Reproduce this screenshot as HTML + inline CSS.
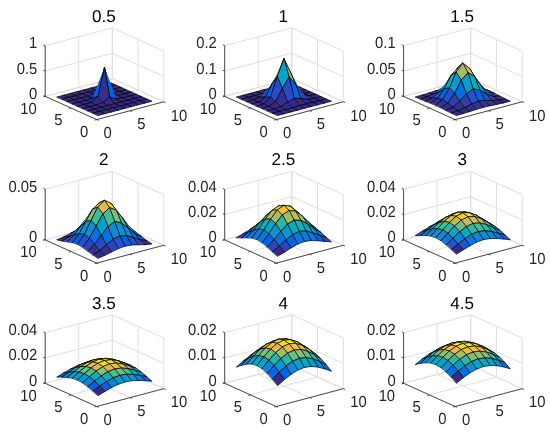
<!DOCTYPE html>
<html><head><meta charset="utf-8"><title>Gaussian kernels</title>
<style>
html,body{margin:0;padding:0;background:#fff;}
svg{display:block;font-family:"Liberation Sans",sans-serif;}
</style></head><body>
<svg width="550" height="433" viewBox="0 0 550 433">
<rect width="550" height="433" fill="#fff"/>
<g fill="none" shape-rendering="auto"><line x1="96.69" y1="119.6" x2="45.2" y2="96.39" stroke="#dfdfdf" stroke-width="1"/><line x1="96.69" y1="119.6" x2="163.8" y2="101.79" stroke="#dfdfdf" stroke-width="1"/><line x1="45.2" y1="96.39" x2="45.2" y2="45.71" stroke="#dfdfdf" stroke-width="1"/><line x1="163.8" y1="101.79" x2="163.8" y2="51.11" stroke="#dfdfdf" stroke-width="1"/><line x1="130.25" y1="110.69" x2="78.75" y2="87.48" stroke="#dfdfdf" stroke-width="1"/><line x1="70.95" y1="107.99" x2="138.05" y2="90.18" stroke="#dfdfdf" stroke-width="1"/><line x1="78.75" y1="87.48" x2="78.75" y2="36.81" stroke="#dfdfdf" stroke-width="1"/><line x1="138.05" y1="90.18" x2="138.05" y2="39.51" stroke="#dfdfdf" stroke-width="1"/><line x1="163.8" y1="101.79" x2="112.31" y2="78.58" stroke="#dfdfdf" stroke-width="1"/><line x1="45.2" y1="96.39" x2="112.31" y2="78.58" stroke="#dfdfdf" stroke-width="1"/><line x1="112.31" y1="78.58" x2="112.31" y2="27.9" stroke="#dfdfdf" stroke-width="1"/><line x1="112.31" y1="78.58" x2="112.31" y2="27.9" stroke="#dfdfdf" stroke-width="1"/><line x1="45.2" y1="96.39" x2="112.31" y2="78.58" stroke="#dfdfdf" stroke-width="1"/><line x1="112.31" y1="78.58" x2="163.8" y2="101.79" stroke="#dfdfdf" stroke-width="1"/><line x1="45.2" y1="71.05" x2="112.31" y2="53.24" stroke="#dfdfdf" stroke-width="1"/><line x1="112.31" y1="53.24" x2="163.8" y2="76.45" stroke="#dfdfdf" stroke-width="1"/><line x1="45.2" y1="45.71" x2="112.31" y2="27.9" stroke="#dfdfdf" stroke-width="1"/><line x1="112.31" y1="27.9" x2="163.8" y2="51.11" stroke="#dfdfdf" stroke-width="1"/><line x1="45.2" y1="96.39" x2="45.2" y2="45.71" stroke="#262626" stroke-width="0.8"/><line x1="96.69" y1="119.6" x2="163.8" y2="101.79" stroke="#262626" stroke-width="0.8"/><line x1="96.69" y1="119.6" x2="45.2" y2="96.39" stroke="#262626" stroke-width="0.8"/><line x1="45.2" y1="96.39" x2="43.38" y2="95.57" stroke="#262626" stroke-width="0.8"/><line x1="45.2" y1="71.05" x2="43.38" y2="70.23" stroke="#262626" stroke-width="0.8"/><line x1="45.2" y1="45.71" x2="43.38" y2="44.89" stroke="#262626" stroke-width="0.8"/><line x1="96.69" y1="119.6" x2="98.52" y2="120.42" stroke="#262626" stroke-width="0.8"/><line x1="96.69" y1="119.6" x2="94.76" y2="120.11" stroke="#262626" stroke-width="0.8"/><line x1="130.25" y1="110.69" x2="132.07" y2="111.52" stroke="#262626" stroke-width="0.8"/><line x1="70.95" y1="107.99" x2="69.01" y2="108.51" stroke="#262626" stroke-width="0.8"/><line x1="163.8" y1="101.79" x2="165.62" y2="102.61" stroke="#262626" stroke-width="0.8"/><line x1="45.2" y1="96.39" x2="43.27" y2="96.9" stroke="#262626" stroke-width="0.8"/></g>
<g stroke="#000" stroke-width="0.7" stroke-linejoin="round" stroke-linecap="round"><path d="M109.18,86.78L115.89,85L110.75,82.68L104.03,84.46Z" fill="#352a87"/><path d="M102.47,88.56L109.18,86.78L104.03,84.46L97.32,86.24Z" fill="#352a87"/><path d="M114.33,89.1L121.04,87.32L115.89,85L109.18,86.78Z" fill="#352a87"/><path d="M95.76,90.34L102.47,88.56L97.32,86.24L90.61,88.02Z" fill="#352a87"/><path d="M107.62,90.88L114.33,89.1L109.18,86.78L102.47,88.56Z" fill="#352a87"/><path d="M119.48,91.42L126.19,89.64L121.04,87.32L114.33,89.1Z" fill="#352a87"/><path d="M89.05,92.12L95.76,90.34L90.61,88.02L83.9,89.8Z" fill="#352a87"/><path d="M100.91,92.66L107.62,90.88L102.47,88.56L95.76,90.34Z" fill="#352a87"/><path d="M112.77,93.2L119.48,91.42L114.33,89.1L107.62,90.88Z" fill="#352a87"/><path d="M124.63,93.74L131.34,91.96L126.19,89.64L119.48,91.42Z" fill="#352a87"/><path d="M82.34,93.91L89.05,92.12L83.9,89.8L77.19,91.58Z" fill="#352a87"/><path d="M94.2,94.44L100.91,92.66L95.76,90.34L89.05,92.12Z" fill="#352a87"/><path d="M106.06,94.41L112.77,93.2L107.62,90.88L100.91,92.66Z" fill="#363093"/><path d="M117.92,95.52L124.63,93.74L119.48,91.42L112.77,93.2Z" fill="#352a87"/><path d="M75.63,95.69L82.34,93.91L77.19,91.58L70.48,93.37Z" fill="#352a87"/><path d="M129.78,96.07L136.49,94.29L131.34,91.96L124.63,93.74Z" fill="#352a87"/><path d="M87.49,96.23L94.2,94.44L89.05,92.12L82.34,93.91Z" fill="#352a87"/><path d="M106.06,94.41L94.2,94.44L100.91,92.66Z" fill="#0363e1" stroke="none"/><path d="M106.06,94.41L100.91,92.66L94.2,94.44" fill="none"/><path d="M106.06,94.41L94.2,94.44L99.35,92.52Z" fill="#0363e1" stroke="none"/><path d="M106.06,94.41L99.35,92.52L94.2,94.44" fill="none"/><path d="M117.92,95.52L106.06,94.41L112.77,93.2Z" fill="#0363e1" stroke="none"/><path d="M117.92,95.52L112.77,93.2L106.06,94.41" fill="none"/><path d="M117.92,95.52L106.06,94.41L111.21,93.06Z" fill="#0363e1" stroke="none"/><path d="M117.92,95.52L111.21,93.06L106.06,94.41" fill="none"/><path d="M68.92,97.47L75.63,95.69L70.48,93.37L63.77,95.15Z" fill="#352a87"/><path d="M123.07,97.85L129.78,96.07L124.63,93.74L117.92,95.52Z" fill="#352a87"/><path d="M80.78,98.01L87.49,96.23L82.34,93.91L75.63,95.69Z" fill="#352a87"/><path d="M134.93,98.39L141.64,96.61L136.49,94.29L129.78,96.07Z" fill="#352a87"/><path d="M99.35,92.52L87.49,96.23L94.2,94.44Z" fill="#363093" stroke="none"/><path d="M99.35,92.52L94.2,94.44L87.49,96.23" fill="none"/><path d="M99.35,92.52L87.49,96.23L92.64,97.97Z" fill="#363093" stroke="none"/><path d="M99.35,92.52L92.64,97.97L87.49,96.23" fill="none"/><path d="M104.5,67.74L111.21,93.06L106.06,94.41L99.35,92.52Z" fill="#f9fb0e"/><path d="M62.21,99.25L68.92,97.47L63.77,95.15L57.06,96.93Z" fill="#352a87"/><path d="M116.36,99.05L123.07,97.85L117.92,95.52L111.21,93.06Z" fill="#363093"/><path d="M74.07,99.79L80.78,98.01L75.63,95.69L68.92,97.47Z" fill="#352a87"/><path d="M128.22,100.17L134.93,98.39L129.78,96.07L123.07,97.85Z" fill="#352a87"/><path d="M85.93,100.33L92.64,97.97L87.49,96.23L80.78,98.01Z" fill="#352a87"/><path d="M140.08,100.71L146.79,98.93L141.64,96.61L134.93,98.39Z" fill="#352a87"/><path d="M104.5,67.74L92.64,97.97L99.35,92.52Z" fill="#0363e1" stroke="none"/><path d="M104.5,67.74L99.35,92.52L92.64,97.97" fill="none"/><path d="M104.5,67.74L92.64,97.97L97.79,96.63Z" fill="#0363e1" stroke="none"/><path d="M104.5,67.74L97.79,96.63L92.64,97.97" fill="none"/><path d="M116.36,99.05L104.5,67.74L111.21,93.06Z" fill="#0363e1" stroke="none"/><path d="M116.36,99.05L111.21,93.06L104.5,67.74" fill="none"/><path d="M116.36,99.05L104.5,67.74L109.65,97.17Z" fill="#0363e1" stroke="none"/><path d="M116.36,99.05L109.65,97.17L104.5,67.74" fill="none"/><path d="M67.36,101.57L74.07,99.79L68.92,97.47L62.21,99.25Z" fill="#352a87"/><path d="M121.51,101.95L128.22,100.17L123.07,97.85L116.36,99.05Z" fill="#352a87"/><path d="M79.22,102.11L85.93,100.33L80.78,98.01L74.07,99.79Z" fill="#352a87"/><path d="M133.37,102.49L140.08,100.71L134.93,98.39L128.22,100.17Z" fill="#352a87"/><path d="M91.08,102.64L97.79,96.63L92.64,97.97L85.93,100.33Z" fill="#352a87"/><path d="M145.23,103.03L151.94,101.25L146.79,98.93L140.08,100.71Z" fill="#352a87"/><path d="M102.94,102.62L109.65,97.17L104.5,67.74L97.79,96.63Z" fill="#363093"/><path d="M114.8,103.72L121.51,101.95L116.36,99.05L109.65,97.17Z" fill="#352a87"/><path d="M72.51,103.89L79.22,102.11L74.07,99.79L67.36,101.57Z" fill="#352a87"/><path d="M126.66,104.27L133.37,102.49L128.22,100.17L121.51,101.95Z" fill="#352a87"/><path d="M84.37,104.43L91.08,102.64L85.93,100.33L79.22,102.11Z" fill="#352a87"/><path d="M138.52,104.81L145.23,103.03L140.08,100.71L133.37,102.49Z" fill="#352a87"/><path d="M96.23,104.97L102.94,102.62L97.79,96.63L91.08,102.64Z" fill="#352a87"/><path d="M108.09,105.51L114.8,103.72L109.65,97.17L102.94,102.62Z" fill="#352a87"/><path d="M119.95,106.05L126.66,104.27L121.51,101.95L114.8,103.72Z" fill="#352a87"/><path d="M77.66,106.21L84.37,104.43L79.22,102.11L72.51,103.89Z" fill="#352a87"/><path d="M131.81,106.59L138.52,104.81L133.37,102.49L126.66,104.27Z" fill="#352a87"/><path d="M89.52,106.75L96.23,104.97L91.08,102.64L84.37,104.43Z" fill="#352a87"/><path d="M101.38,107.29L108.09,105.51L102.94,102.62L96.23,104.97Z" fill="#352a87"/><path d="M113.24,107.83L119.95,106.05L114.8,103.72L108.09,105.51Z" fill="#352a87"/><path d="M125.1,108.37L131.81,106.59L126.66,104.27L119.95,106.05Z" fill="#352a87"/><path d="M82.81,108.53L89.52,106.75L84.37,104.43L77.66,106.21Z" fill="#352a87"/><path d="M94.67,109.07L101.38,107.29L96.23,104.97L89.52,106.75Z" fill="#352a87"/><path d="M106.53,109.61L113.24,107.83L108.09,105.51L101.38,107.29Z" fill="#352a87"/><path d="M118.39,110.15L125.1,108.37L119.95,106.05L113.24,107.83Z" fill="#352a87"/><path d="M87.96,110.86L94.67,109.07L89.52,106.75L82.81,108.53Z" fill="#352a87"/><path d="M99.82,111.4L106.53,109.61L101.38,107.29L94.67,109.07Z" fill="#352a87"/><path d="M111.68,111.94L118.39,110.15L113.24,107.83L106.53,109.61Z" fill="#352a87"/><path d="M93.11,113.18L99.82,111.4L94.67,109.07L87.96,110.86Z" fill="#352a87"/><path d="M104.97,113.72L111.68,111.94L106.53,109.61L99.82,111.4Z" fill="#352a87"/><path d="M98.25,115.5L104.97,113.72L99.82,111.4L93.11,113.18Z" fill="#352a87"/></g>
<g fill="#262626" text-rendering="geometricPrecision"><text transform="translate(103.8 21.6) scale(1 1.0)" text-anchor="middle" font-size="17.1" fill="#000">0.5</text><text transform="translate(37.3 98.84) scale(1 1.08)" text-anchor="end" font-size="14.8">0</text><text transform="translate(37.3 73.5) scale(1 1.08)" text-anchor="end" font-size="14.8">0.5</text><text transform="translate(37.3 48.16) scale(1 1.08)" text-anchor="end" font-size="14.8">1</text><text transform="translate(103.59 138.4) scale(1 1.08)" text-anchor="start" font-size="14.8">0</text><text transform="translate(88.19 137) scale(1 1.08)" text-anchor="end" font-size="14.8">0</text><text transform="translate(137.15 129.49) scale(1 1.08)" text-anchor="start" font-size="14.8">5</text><text transform="translate(62.45 125.39) scale(1 1.08)" text-anchor="end" font-size="14.8">5</text><text transform="translate(170.7 120.59) scale(1 1.08)" text-anchor="start" font-size="14.8">10</text><text transform="translate(36.7 113.79) scale(1 1.08)" text-anchor="end" font-size="14.8">10</text></g>
<g fill="none" shape-rendering="auto"><line x1="276.19" y1="119.6" x2="224.7" y2="96.39" stroke="#dfdfdf" stroke-width="1"/><line x1="276.19" y1="119.6" x2="343.3" y2="101.79" stroke="#dfdfdf" stroke-width="1"/><line x1="224.7" y1="96.39" x2="224.7" y2="45.71" stroke="#dfdfdf" stroke-width="1"/><line x1="343.3" y1="101.79" x2="343.3" y2="51.11" stroke="#dfdfdf" stroke-width="1"/><line x1="309.75" y1="110.69" x2="258.25" y2="87.48" stroke="#dfdfdf" stroke-width="1"/><line x1="250.45" y1="107.99" x2="317.55" y2="90.18" stroke="#dfdfdf" stroke-width="1"/><line x1="258.25" y1="87.48" x2="258.25" y2="36.81" stroke="#dfdfdf" stroke-width="1"/><line x1="317.55" y1="90.18" x2="317.55" y2="39.51" stroke="#dfdfdf" stroke-width="1"/><line x1="343.3" y1="101.79" x2="291.81" y2="78.58" stroke="#dfdfdf" stroke-width="1"/><line x1="224.7" y1="96.39" x2="291.81" y2="78.58" stroke="#dfdfdf" stroke-width="1"/><line x1="291.81" y1="78.58" x2="291.81" y2="27.9" stroke="#dfdfdf" stroke-width="1"/><line x1="291.81" y1="78.58" x2="291.81" y2="27.9" stroke="#dfdfdf" stroke-width="1"/><line x1="224.7" y1="96.39" x2="291.81" y2="78.58" stroke="#dfdfdf" stroke-width="1"/><line x1="291.81" y1="78.58" x2="343.3" y2="101.79" stroke="#dfdfdf" stroke-width="1"/><line x1="224.7" y1="71.05" x2="291.81" y2="53.24" stroke="#dfdfdf" stroke-width="1"/><line x1="291.81" y1="53.24" x2="343.3" y2="76.45" stroke="#dfdfdf" stroke-width="1"/><line x1="224.7" y1="45.71" x2="291.81" y2="27.9" stroke="#dfdfdf" stroke-width="1"/><line x1="291.81" y1="27.9" x2="343.3" y2="51.11" stroke="#dfdfdf" stroke-width="1"/><line x1="224.7" y1="96.39" x2="224.7" y2="45.71" stroke="#262626" stroke-width="0.8"/><line x1="276.19" y1="119.6" x2="343.3" y2="101.79" stroke="#262626" stroke-width="0.8"/><line x1="276.19" y1="119.6" x2="224.7" y2="96.39" stroke="#262626" stroke-width="0.8"/><line x1="224.7" y1="96.39" x2="222.88" y2="95.57" stroke="#262626" stroke-width="0.8"/><line x1="224.7" y1="71.05" x2="222.88" y2="70.23" stroke="#262626" stroke-width="0.8"/><line x1="224.7" y1="45.71" x2="222.88" y2="44.89" stroke="#262626" stroke-width="0.8"/><line x1="276.19" y1="119.6" x2="278.02" y2="120.42" stroke="#262626" stroke-width="0.8"/><line x1="276.19" y1="119.6" x2="274.26" y2="120.11" stroke="#262626" stroke-width="0.8"/><line x1="309.75" y1="110.69" x2="311.57" y2="111.52" stroke="#262626" stroke-width="0.8"/><line x1="250.45" y1="107.99" x2="248.51" y2="108.51" stroke="#262626" stroke-width="0.8"/><line x1="343.3" y1="101.79" x2="345.12" y2="102.61" stroke="#262626" stroke-width="0.8"/><line x1="224.7" y1="96.39" x2="222.77" y2="96.9" stroke="#262626" stroke-width="0.8"/></g>
<g stroke="#000" stroke-width="0.7" stroke-linejoin="round" stroke-linecap="round"><path d="M288.68,86.78L295.39,85L290.25,82.68L283.53,84.46Z" fill="#352a87"/><path d="M281.97,88.5L288.68,86.78L283.53,84.46L276.82,86.24Z" fill="#352a87"/><path d="M293.83,89.04L300.54,87.32L295.39,85L288.68,86.78Z" fill="#352a87"/><path d="M275.26,90.07L281.97,88.5L276.82,86.24L270.11,88.01Z" fill="#352a87"/><path d="M287.12,90.15L293.83,89.04L288.68,86.78L281.97,88.5Z" fill="#363093"/><path d="M298.98,91.15L305.69,89.63L300.54,87.32L293.83,89.04Z" fill="#352a87"/><path d="M268.55,91.68L275.26,90.07L270.11,88.01L263.4,89.79Z" fill="#352a87"/><path d="M287.12,90.15L275.26,90.07L281.97,88.5Z" fill="#2c4ac7" stroke="none"/><path d="M287.12,90.15L281.97,88.5L275.26,90.07" fill="none"/><path d="M287.12,90.15L275.26,90.07L280.41,89.35Z" fill="#2c4ac7" stroke="none"/><path d="M287.12,90.15L280.41,89.35L275.26,90.07" fill="none"/><path d="M298.98,91.15L287.12,90.15L293.83,89.04Z" fill="#2c4ac7" stroke="none"/><path d="M298.98,91.15L293.83,89.04L287.12,90.15" fill="none"/><path d="M298.98,91.15L287.12,90.15L292.27,89.89Z" fill="#2c4ac7" stroke="none"/><path d="M298.98,91.15L292.27,89.89L287.12,90.15" fill="none"/><path d="M304.13,93.3L310.84,91.95L305.69,89.63L298.98,91.15Z" fill="#352a87"/><path d="M261.84,93.63L268.55,91.68L263.4,89.79L256.69,91.58Z" fill="#352a87"/><path d="M280.41,89.35L268.55,91.68L275.26,90.07Z" fill="#0363e1" stroke="none"/><path d="M280.41,89.35L275.26,90.07L268.55,91.68" fill="none"/><path d="M280.41,89.35L268.55,91.68L273.7,88.99Z" fill="#0363e1" stroke="none"/><path d="M280.41,89.35L273.7,88.99L268.55,91.68" fill="none"/><path d="M285.56,80.15L292.27,89.89L287.12,90.15L280.41,89.35Z" fill="#06a4ca"/><path d="M304.13,93.3L292.27,89.89L298.98,91.15Z" fill="#0363e1" stroke="none"/><path d="M304.13,93.3L298.98,91.15L292.27,89.89" fill="none"/><path d="M304.13,93.3L292.27,89.89L297.42,90.07Z" fill="#0363e1" stroke="none"/><path d="M304.13,93.3L297.42,90.07L292.27,89.89" fill="none"/><path d="M255.13,95.63L261.84,93.63L256.69,91.58L249.98,93.36Z" fill="#352a87"/><path d="M309.28,95.79L315.99,94.28L310.84,91.95L304.13,93.3Z" fill="#352a87"/><path d="M273.7,88.99L261.84,93.63L268.55,91.68Z" fill="#2c4ac7" stroke="none"/><path d="M273.7,88.99L268.55,91.68L261.84,93.63" fill="none"/><path d="M273.7,88.99L261.84,93.63L266.99,92.92Z" fill="#2c4ac7" stroke="none"/><path d="M273.7,88.99L266.99,92.92L261.84,93.63" fill="none"/><path d="M278.85,72.31L285.56,80.15L280.41,89.35L273.7,88.99Z" fill="#7cbf7b"/><path d="M290.71,72.85L297.42,90.07L292.27,89.89L285.56,80.15Z" fill="#7cbf7b"/><path d="M248.42,97.46L255.13,95.63L249.98,93.36L243.27,95.15Z" fill="#352a87"/><path d="M302.57,94.54L309.28,95.79L304.13,93.3L297.42,90.07Z" fill="#2c4ac7"/><path d="M260.28,97.27L266.99,92.92L261.84,93.63L255.13,95.63Z" fill="#363093"/><path d="M314.43,98.33L321.14,96.6L315.99,94.28L309.28,95.79Z" fill="#352a87"/><path d="M272.14,83.71L278.85,72.31L273.7,88.99L266.99,92.92Z" fill="#06a4ca"/><path d="M284,58.76L290.71,72.85L285.56,80.15L278.85,72.31Z" fill="#f9fb0e"/><path d="M241.71,99.25L248.42,97.46L243.27,95.15L236.56,96.93Z" fill="#352a87"/><path d="M302.57,94.54L290.71,72.85L297.42,90.07Z" fill="#06a4ca" stroke="none"/><path d="M302.57,94.54L297.42,90.07L290.71,72.85" fill="none"/><path d="M302.57,94.54L290.71,72.85L295.86,84.79Z" fill="#06a4ca" stroke="none"/><path d="M302.57,94.54L295.86,84.79L290.71,72.85" fill="none"/><path d="M253.57,99.73L260.28,97.27L255.13,95.63L248.42,97.46Z" fill="#352a87"/><path d="M307.72,99.43L314.43,98.33L309.28,95.79L302.57,94.54Z" fill="#363093"/><path d="M272.14,83.71L260.28,97.27L266.99,92.92Z" fill="#2c4ac7" stroke="none"/><path d="M272.14,83.71L266.99,92.92L260.28,97.27" fill="none"/><path d="M272.14,83.71L260.28,97.27L265.43,97.02Z" fill="#2c4ac7" stroke="none"/><path d="M272.14,83.71L265.43,97.02L260.28,97.27" fill="none"/><path d="M319.58,100.7L326.29,98.93L321.14,96.6L314.43,98.33Z" fill="#352a87"/><path d="M284,58.76L272.14,83.71L278.85,72.31Z" fill="#7cbf7b" stroke="none"/><path d="M284,58.76L278.85,72.31L272.14,83.71" fill="none"/><path d="M284,58.76L272.14,83.71L277.29,76.41Z" fill="#7cbf7b" stroke="none"/><path d="M284,58.76L277.29,76.41L272.14,83.71" fill="none"/><path d="M289.15,76.95L295.86,84.79L290.71,72.85L284,58.76Z" fill="#7cbf7b"/><path d="M246.86,101.57L253.57,99.73L248.42,97.46L241.71,99.25Z" fill="#352a87"/><path d="M307.72,99.43L295.86,84.79L302.57,94.54Z" fill="#2c4ac7" stroke="none"/><path d="M307.72,99.43L302.57,94.54L295.86,84.79" fill="none"/><path d="M307.72,99.43L295.86,84.79L301.01,98.64Z" fill="#2c4ac7" stroke="none"/><path d="M307.72,99.43L301.01,98.64L295.86,84.79" fill="none"/><path d="M258.72,101.84L265.43,97.02L260.28,97.27L253.57,99.73Z" fill="#352a87"/><path d="M312.87,102.43L319.58,100.7L314.43,98.33L307.72,99.43Z" fill="#352a87"/><path d="M270.58,97.19L277.29,76.41L272.14,83.71L265.43,97.02Z" fill="#0363e1"/><path d="M324.73,103.03L331.44,101.25L326.29,98.93L319.58,100.7Z" fill="#352a87"/><path d="M282.44,88.36L289.15,76.95L284,58.76L277.29,76.41Z" fill="#06a4ca"/><path d="M294.3,98.27L301.01,98.64L295.86,84.79L289.15,76.95Z" fill="#0363e1"/><path d="M252.01,103.88L258.72,101.84L253.57,99.73L246.86,101.57Z" fill="#352a87"/><path d="M306.16,104L312.87,102.43L307.72,99.43L301.01,98.64Z" fill="#352a87"/><path d="M263.87,103.98L270.58,97.19L265.43,97.02L258.72,101.84Z" fill="#352a87"/><path d="M318.02,104.81L324.73,103.03L319.58,100.7L312.87,102.43Z" fill="#352a87"/><path d="M275.73,101.66L282.44,88.36L277.29,76.41L270.58,97.19Z" fill="#2c4ac7"/><path d="M287.59,102.2L294.3,98.27L289.15,76.95L282.44,88.36Z" fill="#2c4ac7"/><path d="M299.45,105.6L306.16,104L301.01,98.64L294.3,98.27Z" fill="#352a87"/><path d="M257.16,106.2L263.87,103.98L258.72,101.84L252.01,103.88Z" fill="#352a87"/><path d="M311.31,106.58L318.02,104.81L312.87,102.43L306.16,104Z" fill="#352a87"/><path d="M269.02,106.48L275.73,101.66L270.58,97.19L263.87,103.98Z" fill="#352a87"/><path d="M280.88,106.55L287.59,102.2L282.44,88.36L275.73,101.66Z" fill="#363093"/><path d="M292.74,107.56L299.45,105.6L294.3,98.27L287.59,102.2Z" fill="#352a87"/><path d="M304.6,108.36L311.31,106.58L306.16,104L299.45,105.6Z" fill="#352a87"/><path d="M262.31,108.53L269.02,106.48L263.87,103.98L257.16,106.2Z" fill="#352a87"/><path d="M274.17,109.01L280.88,106.55L275.73,101.66L269.02,106.48Z" fill="#352a87"/><path d="M286.03,109.55L292.74,107.56L287.59,102.2L280.88,106.55Z" fill="#352a87"/><path d="M297.89,110.15L304.6,108.36L299.45,105.6L292.74,107.56Z" fill="#352a87"/><path d="M267.46,110.85L274.17,109.01L269.02,106.48L262.31,108.53Z" fill="#352a87"/><path d="M279.32,111.39L286.03,109.55L280.88,106.55L274.17,109.01Z" fill="#352a87"/><path d="M291.18,111.93L297.89,110.15L292.74,107.56L286.03,109.55Z" fill="#352a87"/><path d="M272.61,113.18L279.32,111.39L274.17,109.01L267.46,110.85Z" fill="#352a87"/><path d="M284.47,113.72L291.18,111.93L286.03,109.55L279.32,111.39Z" fill="#352a87"/><path d="M277.75,115.5L284.47,113.72L279.32,111.39L272.61,113.18Z" fill="#352a87"/></g>
<g fill="#262626" text-rendering="geometricPrecision"><text transform="translate(283.3 21.6) scale(1 1.0)" text-anchor="middle" font-size="17.1" fill="#000">1</text><text transform="translate(216.8 98.84) scale(1 1.08)" text-anchor="end" font-size="14.8">0</text><text transform="translate(216.8 73.5) scale(1 1.08)" text-anchor="end" font-size="14.8">0.1</text><text transform="translate(216.8 48.16) scale(1 1.08)" text-anchor="end" font-size="14.8">0.2</text><text transform="translate(283.09 138.4) scale(1 1.08)" text-anchor="start" font-size="14.8">0</text><text transform="translate(267.69 137) scale(1 1.08)" text-anchor="end" font-size="14.8">0</text><text transform="translate(316.65 129.49) scale(1 1.08)" text-anchor="start" font-size="14.8">5</text><text transform="translate(241.95 125.39) scale(1 1.08)" text-anchor="end" font-size="14.8">5</text><text transform="translate(350.2 120.59) scale(1 1.08)" text-anchor="start" font-size="14.8">10</text><text transform="translate(216.2 113.79) scale(1 1.08)" text-anchor="end" font-size="14.8">10</text></g>
<g fill="none" shape-rendering="auto"><line x1="455.09" y1="119.6" x2="403.6" y2="96.39" stroke="#dfdfdf" stroke-width="1"/><line x1="455.09" y1="119.6" x2="522.2" y2="101.79" stroke="#dfdfdf" stroke-width="1"/><line x1="403.6" y1="96.39" x2="403.6" y2="45.71" stroke="#dfdfdf" stroke-width="1"/><line x1="522.2" y1="101.79" x2="522.2" y2="51.11" stroke="#dfdfdf" stroke-width="1"/><line x1="488.65" y1="110.69" x2="437.15" y2="87.48" stroke="#dfdfdf" stroke-width="1"/><line x1="429.35" y1="107.99" x2="496.45" y2="90.18" stroke="#dfdfdf" stroke-width="1"/><line x1="437.15" y1="87.48" x2="437.15" y2="36.81" stroke="#dfdfdf" stroke-width="1"/><line x1="496.45" y1="90.18" x2="496.45" y2="39.51" stroke="#dfdfdf" stroke-width="1"/><line x1="522.2" y1="101.79" x2="470.71" y2="78.58" stroke="#dfdfdf" stroke-width="1"/><line x1="403.6" y1="96.39" x2="470.71" y2="78.58" stroke="#dfdfdf" stroke-width="1"/><line x1="470.71" y1="78.58" x2="470.71" y2="27.9" stroke="#dfdfdf" stroke-width="1"/><line x1="470.71" y1="78.58" x2="470.71" y2="27.9" stroke="#dfdfdf" stroke-width="1"/><line x1="403.6" y1="96.39" x2="470.71" y2="78.58" stroke="#dfdfdf" stroke-width="1"/><line x1="470.71" y1="78.58" x2="522.2" y2="101.79" stroke="#dfdfdf" stroke-width="1"/><line x1="403.6" y1="71.05" x2="470.71" y2="53.24" stroke="#dfdfdf" stroke-width="1"/><line x1="470.71" y1="53.24" x2="522.2" y2="76.45" stroke="#dfdfdf" stroke-width="1"/><line x1="403.6" y1="45.71" x2="470.71" y2="27.9" stroke="#dfdfdf" stroke-width="1"/><line x1="470.71" y1="27.9" x2="522.2" y2="51.11" stroke="#dfdfdf" stroke-width="1"/><line x1="403.6" y1="96.39" x2="403.6" y2="45.71" stroke="#262626" stroke-width="0.8"/><line x1="455.09" y1="119.6" x2="522.2" y2="101.79" stroke="#262626" stroke-width="0.8"/><line x1="455.09" y1="119.6" x2="403.6" y2="96.39" stroke="#262626" stroke-width="0.8"/><line x1="403.6" y1="96.39" x2="401.78" y2="95.57" stroke="#262626" stroke-width="0.8"/><line x1="403.6" y1="71.05" x2="401.78" y2="70.23" stroke="#262626" stroke-width="0.8"/><line x1="403.6" y1="45.71" x2="401.78" y2="44.89" stroke="#262626" stroke-width="0.8"/><line x1="455.09" y1="119.6" x2="456.92" y2="120.42" stroke="#262626" stroke-width="0.8"/><line x1="455.09" y1="119.6" x2="453.16" y2="120.11" stroke="#262626" stroke-width="0.8"/><line x1="488.65" y1="110.69" x2="490.47" y2="111.52" stroke="#262626" stroke-width="0.8"/><line x1="429.35" y1="107.99" x2="427.41" y2="108.51" stroke="#262626" stroke-width="0.8"/><line x1="522.2" y1="101.79" x2="524.02" y2="102.61" stroke="#262626" stroke-width="0.8"/><line x1="403.6" y1="96.39" x2="401.67" y2="96.9" stroke="#262626" stroke-width="0.8"/></g>
<g stroke="#000" stroke-width="0.7" stroke-linejoin="round" stroke-linecap="round"><path d="M467.58,86.12L474.29,84.86L469.15,82.65L462.43,84.32Z" fill="#363093"/><path d="M460.87,86.56L467.58,86.12L462.43,84.32L455.72,85.82Z" fill="#353dad"/><path d="M472.73,87.1L479.44,86.9L474.29,84.86L467.58,86.12Z" fill="#353dad"/><path d="M460.87,86.56L449.01,87.2L455.72,85.82Z" fill="#2053d4" stroke="none"/><path d="M460.87,86.56L455.72,85.82L449.01,87.2" fill="none"/><path d="M460.87,86.56L449.01,87.2L454.16,86.44Z" fill="#2053d4" stroke="none"/><path d="M460.87,86.56L454.16,86.44L449.01,87.2" fill="none"/><path d="M472.73,87.1L460.87,86.56L467.58,86.12Z" fill="#046de0" stroke="none"/><path d="M472.73,87.1L467.58,86.12L460.87,86.56" fill="none"/><path d="M472.73,87.1L460.87,86.56L466.02,84.8Z" fill="#046de0" stroke="none"/><path d="M472.73,87.1L466.02,84.8L460.87,86.56" fill="none"/><path d="M484.59,88.82L472.73,87.1L479.44,86.9Z" fill="#2053d4" stroke="none"/><path d="M484.59,88.82L479.44,86.9L472.73,87.1" fill="none"/><path d="M484.59,88.82L472.73,87.1L477.88,87.52Z" fill="#2053d4" stroke="none"/><path d="M484.59,88.82L477.88,87.52L472.73,87.1" fill="none"/><path d="M454.16,86.44L442.3,88.77L449.01,87.2Z" fill="#0363e1" stroke="none"/><path d="M454.16,86.44L449.01,87.2L442.3,88.77" fill="none"/><path d="M454.16,86.44L442.3,88.77L447.45,87.25Z" fill="#0363e1" stroke="none"/><path d="M454.16,86.44L447.45,87.25L442.3,88.77" fill="none"/><path d="M459.31,80.81L466.02,84.8L460.87,86.56L454.16,86.44Z" fill="#079ccf"/><path d="M471.17,81.35L477.88,87.52L472.73,87.1L466.02,84.8Z" fill="#079ccf"/><path d="M489.74,90.94L477.88,87.52L484.59,88.82Z" fill="#0363e1" stroke="none"/><path d="M489.74,90.94L484.59,88.82L477.88,87.52" fill="none"/><path d="M489.74,90.94L477.88,87.52L483.03,88.87Z" fill="#0363e1" stroke="none"/><path d="M489.74,90.94L483.03,88.87L477.88,87.52" fill="none"/><path d="M440.74,90L447.45,87.25L442.3,88.77L435.59,90.76Z" fill="#2053d4"/><path d="M452.6,79.64L459.31,80.81L454.16,86.44L447.45,87.25Z" fill="#0aacbe"/><path d="M464.46,71.9L471.17,81.35L466.02,84.8L459.31,80.81Z" fill="#9cbf6f"/><path d="M476.32,80.72L483.03,88.87L477.88,87.52L471.17,81.35Z" fill="#0aacbe"/><path d="M434.03,93.68L440.74,90L435.59,90.76L428.88,92.94Z" fill="#353dad"/><path d="M488.18,92.16L494.89,93.46L489.74,90.94L483.03,88.87Z" fill="#2053d4"/><path d="M445.89,84.37L452.6,79.64L447.45,87.25L440.74,90Z" fill="#079ccf"/><path d="M457.75,67.93L464.46,71.9L459.31,80.81L452.6,79.64Z" fill="#f1b94a"/><path d="M469.61,68.47L476.32,80.72L471.17,81.35L464.46,71.9Z" fill="#f1b94a"/><path d="M427.32,96.81L434.03,93.68L428.88,92.94L422.17,95.01Z" fill="#363093"/><path d="M488.18,92.16L476.32,80.72L483.03,88.87Z" fill="#079ccf" stroke="none"/><path d="M488.18,92.16L483.03,88.87L476.32,80.72" fill="none"/><path d="M488.18,92.16L476.32,80.72L481.47,85.99Z" fill="#079ccf" stroke="none"/><path d="M488.18,92.16L481.47,85.99L476.32,80.72" fill="none"/><path d="M445.89,84.37L434.03,93.68L440.74,90Z" fill="#046de0" stroke="none"/><path d="M445.89,84.37L440.74,90L434.03,93.68" fill="none"/><path d="M445.89,84.37L434.03,93.68L439.18,91.92Z" fill="#046de0" stroke="none"/><path d="M445.89,84.37L439.18,91.92L434.03,93.68" fill="none"/><path d="M493.33,96.38L500.04,96.18L494.89,93.46L488.18,92.16Z" fill="#353dad"/><path d="M451.04,75.46L457.75,67.93L452.6,79.64L445.89,84.37Z" fill="#9cbf6f"/><path d="M462.9,63.08L469.61,68.47L464.46,71.9L457.75,67.93Z" fill="#f9fb0e"/><path d="M420.61,99.11L427.32,96.81L422.17,95.01L415.46,96.9Z" fill="#352a87"/><path d="M481.47,85.99L469.61,68.47L476.32,80.72Z" fill="#9cbf6f" stroke="none"/><path d="M481.47,85.99L476.32,80.72L469.61,68.47" fill="none"/><path d="M481.47,85.99L469.61,68.47L474.76,76.54Z" fill="#9cbf6f" stroke="none"/><path d="M481.47,85.99L474.76,76.54L469.61,68.47" fill="none"/><path d="M432.47,97.79L439.18,91.92L434.03,93.68L427.32,96.81Z" fill="#353dad"/><path d="M493.33,96.38L481.47,85.99L488.18,92.16Z" fill="#046de0" stroke="none"/><path d="M493.33,96.38L488.18,92.16L481.47,85.99" fill="none"/><path d="M493.33,96.38L481.47,85.99L486.62,94.08Z" fill="#046de0" stroke="none"/><path d="M493.33,96.38L486.62,94.08L481.47,85.99" fill="none"/><path d="M451.04,75.46L439.18,91.92L445.89,84.37Z" fill="#079ccf" stroke="none"/><path d="M451.04,75.46L445.89,84.37L439.18,91.92" fill="none"/><path d="M451.04,75.46L439.18,91.92L444.33,88.48Z" fill="#079ccf" stroke="none"/><path d="M451.04,75.46L444.33,88.48L439.18,91.92" fill="none"/><path d="M498.48,100.05L505.19,98.79L500.04,96.18L493.33,96.38Z" fill="#363093"/><path d="M456.19,72.04L462.9,63.08L457.75,67.93L451.04,75.46Z" fill="#f1b94a"/><path d="M468.05,72.58L474.76,76.54L469.61,68.47L462.9,63.08Z" fill="#f1b94a"/><path d="M425.76,101.15L432.47,97.79L427.32,96.81L420.61,99.11Z" fill="#352a87"/><path d="M479.91,90.1L486.62,94.08L481.47,85.99L474.76,76.54Z" fill="#079ccf"/><path d="M437.62,98.21L444.33,88.48L439.18,91.92L432.47,97.79Z" fill="#2053d4"/><path d="M491.77,100.49L498.48,100.05L493.33,96.38L486.62,94.08Z" fill="#353dad"/><path d="M449.48,87.85L456.19,72.04L451.04,75.46L444.33,88.48Z" fill="#0aacbe"/><path d="M503.63,102.89L510.34,101.22L505.19,98.79L498.48,100.05Z" fill="#352a87"/><path d="M461.34,80.1L468.05,72.58L462.9,63.08L456.19,72.04Z" fill="#9cbf6f"/><path d="M473.2,88.93L479.91,90.1L474.76,76.54L468.05,72.58Z" fill="#0aacbe"/><path d="M430.91,103.07L437.62,98.21L432.47,97.79L425.76,101.15Z" fill="#363093"/><path d="M485.06,100.37L491.77,100.49L486.62,94.08L479.91,90.1Z" fill="#2053d4"/><path d="M442.77,99.56L449.48,87.85L444.33,88.48L437.62,98.21Z" fill="#0363e1"/><path d="M496.92,104.39L503.63,102.89L498.48,100.05L491.77,100.49Z" fill="#352a87"/><path d="M454.63,93.12L461.34,80.1L456.19,72.04L449.48,87.85Z" fill="#079ccf"/><path d="M466.49,93.66L473.2,88.93L468.05,72.58L461.34,80.1Z" fill="#079ccf"/><path d="M478.35,101.18L485.06,100.37L479.91,90.1L473.2,88.93Z" fill="#0363e1"/><path d="M436.06,105.18L442.77,99.56L437.62,98.21L430.91,103.07Z" fill="#363093"/><path d="M490.21,105.77L496.92,104.39L491.77,100.49L485.06,100.37Z" fill="#363093"/><path d="M447.92,102.85L454.63,93.12L449.48,87.85L442.77,99.56Z" fill="#2053d4"/><path d="M459.78,101.21L466.49,93.66L461.34,80.1L454.63,93.12Z" fill="#046de0"/><path d="M471.64,103.93L478.35,101.18L473.2,88.93L466.49,93.66Z" fill="#2053d4"/><path d="M483.5,107.34L490.21,105.77L485.06,100.37L478.35,101.18Z" fill="#363093"/><path d="M441.21,107.71L447.92,102.85L442.77,99.56L436.06,105.18Z" fill="#363093"/><path d="M453.07,107.07L459.78,101.21L454.63,93.12L447.92,102.85Z" fill="#353dad"/><path d="M464.93,107.61L471.64,103.93L466.49,93.66L459.78,101.21Z" fill="#353dad"/><path d="M476.79,109.33L483.5,107.34L478.35,101.18L471.64,103.93Z" fill="#363093"/><path d="M446.36,110.43L453.07,107.07L447.92,102.85L441.21,107.71Z" fill="#352a87"/><path d="M458.22,110.74L464.93,107.61L459.78,101.21L453.07,107.07Z" fill="#363093"/><path d="M470.08,111.51L476.79,109.33L471.64,103.93L464.93,107.61Z" fill="#352a87"/><path d="M451.51,113.04L458.22,110.74L453.07,107.07L446.36,110.43Z" fill="#352a87"/><path d="M463.37,113.58L470.08,111.51L464.93,107.61L458.22,110.74Z" fill="#352a87"/><path d="M456.65,115.47L463.37,113.58L458.22,110.74L451.51,113.04Z" fill="#352a87"/></g>
<g fill="#262626" text-rendering="geometricPrecision"><text transform="translate(462.2 21.6) scale(1 1.0)" text-anchor="middle" font-size="17.1" fill="#000">1.5</text><text transform="translate(395.7 98.84) scale(1 1.08)" text-anchor="end" font-size="14.8">0</text><text transform="translate(395.7 73.5) scale(1 1.08)" text-anchor="end" font-size="14.8">0.05</text><text transform="translate(395.7 48.16) scale(1 1.08)" text-anchor="end" font-size="14.8">0.1</text><text transform="translate(461.99 138.4) scale(1 1.08)" text-anchor="start" font-size="14.8">0</text><text transform="translate(446.59 137) scale(1 1.08)" text-anchor="end" font-size="14.8">0</text><text transform="translate(495.55 129.49) scale(1 1.08)" text-anchor="start" font-size="14.8">5</text><text transform="translate(420.85 125.39) scale(1 1.08)" text-anchor="end" font-size="14.8">5</text><text transform="translate(529.1 120.59) scale(1 1.08)" text-anchor="start" font-size="14.8">10</text><text transform="translate(395.1 113.79) scale(1 1.08)" text-anchor="end" font-size="14.8">10</text></g>
<g fill="none" shape-rendering="auto"><line x1="96.69" y1="263.1" x2="45.2" y2="239.89" stroke="#dfdfdf" stroke-width="1"/><line x1="96.69" y1="263.1" x2="163.8" y2="245.29" stroke="#dfdfdf" stroke-width="1"/><line x1="45.2" y1="239.89" x2="45.2" y2="189.21" stroke="#dfdfdf" stroke-width="1"/><line x1="163.8" y1="245.29" x2="163.8" y2="194.61" stroke="#dfdfdf" stroke-width="1"/><line x1="130.25" y1="254.19" x2="78.75" y2="230.98" stroke="#dfdfdf" stroke-width="1"/><line x1="70.95" y1="251.49" x2="138.05" y2="233.68" stroke="#dfdfdf" stroke-width="1"/><line x1="78.75" y1="230.98" x2="78.75" y2="180.31" stroke="#dfdfdf" stroke-width="1"/><line x1="138.05" y1="233.68" x2="138.05" y2="183.01" stroke="#dfdfdf" stroke-width="1"/><line x1="163.8" y1="245.29" x2="112.31" y2="222.08" stroke="#dfdfdf" stroke-width="1"/><line x1="45.2" y1="239.89" x2="112.31" y2="222.08" stroke="#dfdfdf" stroke-width="1"/><line x1="112.31" y1="222.08" x2="112.31" y2="171.4" stroke="#dfdfdf" stroke-width="1"/><line x1="112.31" y1="222.08" x2="112.31" y2="171.4" stroke="#dfdfdf" stroke-width="1"/><line x1="45.2" y1="239.89" x2="112.31" y2="222.08" stroke="#dfdfdf" stroke-width="1"/><line x1="112.31" y1="222.08" x2="163.8" y2="245.29" stroke="#dfdfdf" stroke-width="1"/><line x1="45.2" y1="189.21" x2="112.31" y2="171.4" stroke="#dfdfdf" stroke-width="1"/><line x1="112.31" y1="171.4" x2="163.8" y2="194.61" stroke="#dfdfdf" stroke-width="1"/><line x1="45.2" y1="239.89" x2="45.2" y2="189.21" stroke="#262626" stroke-width="0.8"/><line x1="96.69" y1="263.1" x2="163.8" y2="245.29" stroke="#262626" stroke-width="0.8"/><line x1="96.69" y1="263.1" x2="45.2" y2="239.89" stroke="#262626" stroke-width="0.8"/><line x1="45.2" y1="239.89" x2="43.38" y2="239.07" stroke="#262626" stroke-width="0.8"/><line x1="45.2" y1="189.21" x2="43.38" y2="188.39" stroke="#262626" stroke-width="0.8"/><line x1="96.69" y1="263.1" x2="98.52" y2="263.92" stroke="#262626" stroke-width="0.8"/><line x1="96.69" y1="263.1" x2="94.76" y2="263.61" stroke="#262626" stroke-width="0.8"/><line x1="130.25" y1="254.19" x2="132.07" y2="255.02" stroke="#262626" stroke-width="0.8"/><line x1="70.95" y1="251.49" x2="69.01" y2="252.01" stroke="#262626" stroke-width="0.8"/><line x1="163.8" y1="245.29" x2="165.62" y2="246.11" stroke="#262626" stroke-width="0.8"/><line x1="45.2" y1="239.89" x2="43.27" y2="240.4" stroke="#262626" stroke-width="0.8"/></g>
<g stroke="#000" stroke-width="0.7" stroke-linejoin="round" stroke-linecap="round"><path d="M115.89,226.64L104.03,226.1L110.75,225.41Z" fill="#2c4ac7" stroke="none"/><path d="M115.89,226.64L110.75,225.41L104.03,226.1" fill="none"/><path d="M115.89,226.64L104.03,226.1L109.18,225.83Z" fill="#2c4ac7" stroke="none"/><path d="M115.89,226.64L109.18,225.83L104.03,226.1" fill="none"/><path d="M102.47,223.74L109.18,225.83L104.03,226.1L97.32,226.27Z" fill="#0871de"/><path d="M121.04,227.35L109.18,225.83L115.89,226.64Z" fill="#0871de" stroke="none"/><path d="M121.04,227.35L115.89,226.64L109.18,225.83" fill="none"/><path d="M121.04,227.35L109.18,225.83L114.33,224.28Z" fill="#0871de" stroke="none"/><path d="M121.04,227.35L114.33,224.28L109.18,225.83" fill="none"/><path d="M95.76,221.74L102.47,223.74L97.32,226.27L90.61,226.48Z" fill="#1389d3"/><path d="M107.62,218.84L114.33,224.28L109.18,225.83L102.47,223.74Z" fill="#06a0cd"/><path d="M119.48,222.82L126.19,228.1L121.04,227.35L114.33,224.28Z" fill="#1389d3"/><path d="M89.05,221.91L95.76,221.74L90.61,226.48L83.9,227.59Z" fill="#0c93d2"/><path d="M100.91,213.55L107.62,218.84L102.47,223.74L95.76,221.74Z" fill="#42bb98"/><path d="M112.77,214.09L119.48,222.82L114.33,224.28L107.62,218.84Z" fill="#42bb98"/><path d="M124.63,223.53L131.34,229.75L126.19,228.1L119.48,222.82Z" fill="#0c93d2"/><path d="M82.34,225.3L89.05,221.91L83.9,227.59L77.19,230.04Z" fill="#1389d3"/><path d="M94.2,212.32L100.91,213.55L95.76,221.74L89.05,221.91Z" fill="#7cbf7b"/><path d="M106.06,205.58L112.77,214.09L107.62,218.84L100.91,213.55Z" fill="#e1b952"/><path d="M117.92,213.4L124.63,223.53L119.48,222.82L112.77,214.09Z" fill="#7cbf7b"/><path d="M82.34,225.3L70.48,233.4L77.19,230.04Z" fill="#0871de" stroke="none"/><path d="M82.34,225.3L77.19,230.04L70.48,233.4" fill="none"/><path d="M82.34,225.3L70.48,233.4L75.63,230.87Z" fill="#0871de" stroke="none"/><path d="M82.34,225.3L75.63,230.87L70.48,233.4" fill="none"/><path d="M129.78,227.46L136.49,232.74L131.34,229.75L124.63,223.53Z" fill="#1389d3"/><path d="M87.49,217.11L94.2,212.32L89.05,221.91L82.34,225.3Z" fill="#42bb98"/><path d="M99.35,202.98L106.06,205.58L100.91,213.55L94.2,212.32Z" fill="#fcce2e"/><path d="M111.21,203.52L117.92,213.4L112.77,214.09L106.06,205.58Z" fill="#fcce2e"/><path d="M68.92,236.52L75.63,230.87L70.48,233.4L63.77,236.79Z" fill="#2c4ac7"/><path d="M123.07,218.73L129.78,227.46L124.63,223.53L117.92,213.4Z" fill="#42bb98"/><path d="M87.49,217.11L75.63,230.87L82.34,225.3Z" fill="#06a0cd" stroke="none"/><path d="M87.49,217.11L82.34,225.3L75.63,230.87" fill="none"/><path d="M87.49,217.11L75.63,230.87L80.78,225.97Z" fill="#06a0cd" stroke="none"/><path d="M87.49,217.11L80.78,225.97L75.63,230.87" fill="none"/><path d="M141.64,236.64L129.78,227.46L136.49,232.74Z" fill="#0871de" stroke="none"/><path d="M141.64,236.64L136.49,232.74L129.78,227.46" fill="none"/><path d="M141.64,236.64L129.78,227.46L134.93,233.57Z" fill="#0871de" stroke="none"/><path d="M141.64,236.64L134.93,233.57L129.78,227.46" fill="none"/><path d="M92.64,209.15L99.35,202.98L94.2,212.32L87.49,217.11Z" fill="#e1b952"/><path d="M104.5,200.34L111.21,203.52L106.06,205.58L99.35,202.98Z" fill="#f9fb0e"/><path d="M62.21,240.89L68.92,236.52L63.77,236.79L57.06,239.65Z" fill="#363093"/><path d="M123.07,218.73L111.21,203.52L117.92,213.4Z" fill="#e1b952" stroke="none"/><path d="M123.07,218.73L117.92,213.4L111.21,203.52" fill="none"/><path d="M123.07,218.73L111.21,203.52L116.36,210.23Z" fill="#e1b952" stroke="none"/><path d="M123.07,218.73L116.36,210.23L111.21,203.52" fill="none"/><path d="M80.78,225.97L68.92,236.52L75.63,230.87Z" fill="#0871de" stroke="none"/><path d="M80.78,225.97L75.63,230.87L68.92,236.52" fill="none"/><path d="M80.78,225.97L68.92,236.52L74.07,234.97Z" fill="#0871de" stroke="none"/><path d="M80.78,225.97L74.07,234.97L68.92,236.52" fill="none"/><path d="M134.93,233.57L123.07,218.73L129.78,227.46Z" fill="#06a0cd" stroke="none"/><path d="M134.93,233.57L129.78,227.46L123.07,218.73" fill="none"/><path d="M134.93,233.57L123.07,218.73L128.22,228.13Z" fill="#06a0cd" stroke="none"/><path d="M134.93,233.57L128.22,228.13L123.07,218.73" fill="none"/><path d="M92.64,209.15L80.78,225.97L87.49,217.11Z" fill="#42bb98" stroke="none"/><path d="M92.64,209.15L87.49,217.11L80.78,225.97" fill="none"/><path d="M92.64,209.15L80.78,225.97L85.93,221.22Z" fill="#42bb98" stroke="none"/><path d="M92.64,209.15L85.93,221.22L80.78,225.97" fill="none"/><path d="M140.08,239.76L146.79,240.57L141.64,236.64L134.93,233.57Z" fill="#2c4ac7"/><path d="M97.79,207.09L104.5,200.34L99.35,202.98L92.64,209.15Z" fill="#fcce2e"/><path d="M109.65,207.63L116.36,210.23L111.21,203.52L104.5,200.34Z" fill="#fcce2e"/><path d="M67.36,241.6L74.07,234.97L68.92,236.52L62.21,240.89Z" fill="#3243ba"/><path d="M121.51,222.84L128.22,228.13L123.07,218.73L116.36,210.23Z" fill="#42bb98"/><path d="M79.22,233.51L85.93,221.22L80.78,225.97L74.07,234.97Z" fill="#1389d3"/><path d="M133.37,237.67L140.08,239.76L134.93,233.57L128.22,228.13Z" fill="#0871de"/><path d="M91.08,220.53L97.79,207.09L92.64,209.15L85.93,221.22Z" fill="#7cbf7b"/><path d="M145.23,244.67L151.94,243.97L146.79,240.57L140.08,239.76Z" fill="#363093"/><path d="M102.94,213.79L109.65,207.63L104.5,200.34L97.79,207.09Z" fill="#e1b952"/><path d="M114.8,221.61L121.51,222.84L116.36,210.23L109.65,207.63Z" fill="#7cbf7b"/><path d="M72.51,242.35L79.22,233.51L74.07,234.97L67.36,241.6Z" fill="#2053d4"/><path d="M126.66,235.67L133.37,237.67L128.22,228.13L121.51,222.84Z" fill="#1389d3"/><path d="M84.37,234.22L91.08,220.53L85.93,221.22L79.22,233.51Z" fill="#0c93d2"/><path d="M138.52,244.84L145.23,244.67L140.08,239.76L133.37,237.67Z" fill="#3243ba"/><path d="M96.23,225.86L102.94,213.79L97.79,207.09L91.08,220.53Z" fill="#42bb98"/><path d="M108.09,226.4L114.8,221.61L109.65,207.63L102.94,213.79Z" fill="#42bb98"/><path d="M119.95,235.84L126.66,235.67L121.51,222.84L114.8,221.61Z" fill="#0c93d2"/><path d="M77.66,244L84.37,234.22L79.22,233.51L72.51,242.35Z" fill="#0f5cdd"/><path d="M131.81,245.05L138.52,244.84L133.37,237.67L126.66,235.67Z" fill="#2053d4"/><path d="M89.52,238.15L96.23,225.86L91.08,220.53L84.37,234.22Z" fill="#1389d3"/><path d="M101.38,235.25L108.09,226.4L102.94,213.79L96.23,225.86Z" fill="#06a0cd"/><path d="M113.24,239.23L119.95,235.84L114.8,221.61L108.09,226.4Z" fill="#1389d3"/><path d="M125.1,246.16L131.81,245.05L126.66,235.67L119.95,235.84Z" fill="#0f5cdd"/><path d="M82.81,246.99L89.52,238.15L84.37,234.22L77.66,244Z" fill="#2053d4"/><path d="M94.67,244.26L101.38,235.25L96.23,225.86L89.52,238.15Z" fill="#0871de"/><path d="M106.53,244.8L113.24,239.23L108.09,226.4L101.38,235.25Z" fill="#0871de"/><path d="M118.39,248.61L125.1,246.16L119.95,235.84L113.24,239.23Z" fill="#2053d4"/><path d="M87.96,250.89L94.67,244.26L89.52,238.15L82.81,246.99Z" fill="#3243ba"/><path d="M99.82,250.44L106.53,244.8L101.38,235.25L94.67,244.26Z" fill="#2c4ac7"/><path d="M111.68,251.97L118.39,248.61L113.24,239.23L106.53,244.8Z" fill="#3243ba"/><path d="M93.11,254.82L99.82,250.44L94.67,244.26L87.96,250.89Z" fill="#363093"/><path d="M104.97,255.36L111.68,251.97L106.53,244.8L99.82,250.44Z" fill="#363093"/><path d="M98.25,258.22L104.97,255.36L99.82,250.44L93.11,254.82Z" fill="#352a87"/></g>
<g fill="#262626" text-rendering="geometricPrecision"><text transform="translate(103.8 165.1) scale(1 1.0)" text-anchor="middle" font-size="17.1" fill="#000">2</text><text transform="translate(37.3 242.34) scale(1 1.08)" text-anchor="end" font-size="14.8">0</text><text transform="translate(37.3 191.66) scale(1 1.08)" text-anchor="end" font-size="14.8">0.05</text><text transform="translate(103.59 281.9) scale(1 1.08)" text-anchor="start" font-size="14.8">0</text><text transform="translate(88.19 280.5) scale(1 1.08)" text-anchor="end" font-size="14.8">0</text><text transform="translate(137.15 272.99) scale(1 1.08)" text-anchor="start" font-size="14.8">5</text><text transform="translate(62.45 268.89) scale(1 1.08)" text-anchor="end" font-size="14.8">5</text><text transform="translate(170.7 264.09) scale(1 1.08)" text-anchor="start" font-size="14.8">10</text><text transform="translate(36.7 257.29) scale(1 1.08)" text-anchor="end" font-size="14.8">10</text></g>
<g fill="none" shape-rendering="auto"><line x1="276.19" y1="263.1" x2="224.7" y2="239.89" stroke="#dfdfdf" stroke-width="1"/><line x1="276.19" y1="263.1" x2="343.3" y2="245.29" stroke="#dfdfdf" stroke-width="1"/><line x1="224.7" y1="239.89" x2="224.7" y2="189.21" stroke="#dfdfdf" stroke-width="1"/><line x1="343.3" y1="245.29" x2="343.3" y2="194.61" stroke="#dfdfdf" stroke-width="1"/><line x1="309.75" y1="254.19" x2="258.25" y2="230.98" stroke="#dfdfdf" stroke-width="1"/><line x1="250.45" y1="251.49" x2="317.55" y2="233.68" stroke="#dfdfdf" stroke-width="1"/><line x1="258.25" y1="230.98" x2="258.25" y2="180.31" stroke="#dfdfdf" stroke-width="1"/><line x1="317.55" y1="233.68" x2="317.55" y2="183.01" stroke="#dfdfdf" stroke-width="1"/><line x1="343.3" y1="245.29" x2="291.81" y2="222.08" stroke="#dfdfdf" stroke-width="1"/><line x1="224.7" y1="239.89" x2="291.81" y2="222.08" stroke="#dfdfdf" stroke-width="1"/><line x1="291.81" y1="222.08" x2="291.81" y2="171.4" stroke="#dfdfdf" stroke-width="1"/><line x1="291.81" y1="222.08" x2="291.81" y2="171.4" stroke="#dfdfdf" stroke-width="1"/><line x1="224.7" y1="239.89" x2="291.81" y2="222.08" stroke="#dfdfdf" stroke-width="1"/><line x1="291.81" y1="222.08" x2="343.3" y2="245.29" stroke="#dfdfdf" stroke-width="1"/><line x1="224.7" y1="214.55" x2="291.81" y2="196.74" stroke="#dfdfdf" stroke-width="1"/><line x1="291.81" y1="196.74" x2="343.3" y2="219.95" stroke="#dfdfdf" stroke-width="1"/><line x1="224.7" y1="189.21" x2="291.81" y2="171.4" stroke="#dfdfdf" stroke-width="1"/><line x1="291.81" y1="171.4" x2="343.3" y2="194.61" stroke="#dfdfdf" stroke-width="1"/><line x1="224.7" y1="239.89" x2="224.7" y2="189.21" stroke="#262626" stroke-width="0.8"/><line x1="276.19" y1="263.1" x2="343.3" y2="245.29" stroke="#262626" stroke-width="0.8"/><line x1="276.19" y1="263.1" x2="224.7" y2="239.89" stroke="#262626" stroke-width="0.8"/><line x1="224.7" y1="239.89" x2="222.88" y2="239.07" stroke="#262626" stroke-width="0.8"/><line x1="224.7" y1="214.55" x2="222.88" y2="213.73" stroke="#262626" stroke-width="0.8"/><line x1="224.7" y1="189.21" x2="222.88" y2="188.39" stroke="#262626" stroke-width="0.8"/><line x1="276.19" y1="263.1" x2="278.02" y2="263.92" stroke="#262626" stroke-width="0.8"/><line x1="276.19" y1="263.1" x2="274.26" y2="263.61" stroke="#262626" stroke-width="0.8"/><line x1="309.75" y1="254.19" x2="311.57" y2="255.02" stroke="#262626" stroke-width="0.8"/><line x1="250.45" y1="251.49" x2="248.51" y2="252.01" stroke="#262626" stroke-width="0.8"/><line x1="343.3" y1="245.29" x2="345.12" y2="246.11" stroke="#262626" stroke-width="0.8"/><line x1="224.7" y1="239.89" x2="222.77" y2="240.4" stroke="#262626" stroke-width="0.8"/></g>
<g stroke="#000" stroke-width="0.7" stroke-linejoin="round" stroke-linecap="round"><path d="M288.68,221.44L295.39,223.45L290.25,223.3L283.53,222.91Z" fill="#0871de"/><path d="M281.97,218.88L288.68,221.44L283.53,222.91L276.82,222.21Z" fill="#0c93d2"/><path d="M293.83,219.42L300.54,223.29L295.39,223.45L288.68,221.44Z" fill="#0c93d2"/><path d="M275.26,217.08L281.97,218.88L276.82,222.21L270.11,221.95Z" fill="#07a9c2"/><path d="M287.12,214.72L293.83,219.42L288.68,221.44L281.97,218.88Z" fill="#2eb7a4"/><path d="M298.98,218.16L305.69,223.57L300.54,223.29L293.83,219.42Z" fill="#07a9c2"/><path d="M268.55,217.47L275.26,217.08L270.11,221.95L263.4,222.93Z" fill="#15b1b4"/><path d="M280.41,211.16L287.12,214.72L281.97,218.88L275.26,217.08Z" fill="#9cbf6f"/><path d="M292.27,211.7L298.98,218.16L293.83,219.42L287.12,214.72Z" fill="#9cbf6f"/><path d="M304.13,219.09L310.84,225.09L305.69,223.57L298.98,218.16Z" fill="#15b1b4"/><path d="M261.84,220.65L268.55,217.47L263.4,222.93L256.69,225.51Z" fill="#07a9c2"/><path d="M273.7,210.86L280.41,211.16L275.26,217.08L268.55,217.47Z" fill="#c0bc60"/><path d="M285.56,206.7L292.27,211.7L287.12,214.72L280.41,211.16Z" fill="#fdbe3d"/><path d="M297.42,211.94L304.13,219.09L298.98,218.16L292.27,211.7Z" fill="#c0bc60"/><path d="M261.84,220.65L249.98,229.34L256.69,225.51Z" fill="#0c93d2" stroke="none"/><path d="M261.84,220.65L256.69,225.51L249.98,229.34" fill="none"/><path d="M261.84,220.65L249.98,229.34L255.13,226Z" fill="#0c93d2" stroke="none"/><path d="M261.84,220.65L255.13,226L249.98,229.34" fill="none"/><path d="M309.28,222.81L315.99,228.21L310.84,225.09L304.13,219.09Z" fill="#07a9c2"/><path d="M266.99,214.73L273.7,210.86L268.55,217.47L261.84,220.65Z" fill="#9cbf6f"/><path d="M278.85,205.84L285.56,206.7L280.41,211.16L273.7,210.86Z" fill="#f7d826"/><path d="M290.71,206.38L297.42,211.94L292.27,211.7L285.56,206.7Z" fill="#f7d826"/><path d="M255.13,226L243.27,233.6L249.98,229.34Z" fill="#0871de" stroke="none"/><path d="M255.13,226L249.98,229.34L243.27,233.6" fill="none"/><path d="M255.13,226L243.27,233.6L248.42,232.13Z" fill="#0871de" stroke="none"/><path d="M255.13,226L248.42,232.13L243.27,233.6" fill="none"/><path d="M302.57,216.35L309.28,222.81L304.13,219.09L297.42,211.94Z" fill="#9cbf6f"/><path d="M266.99,214.73L255.13,226L261.84,220.65Z" fill="#2eb7a4" stroke="none"/><path d="M266.99,214.73L261.84,220.65L255.13,226" fill="none"/><path d="M266.99,214.73L255.13,226L260.28,221.84Z" fill="#2eb7a4" stroke="none"/><path d="M266.99,214.73L260.28,221.84L255.13,226" fill="none"/><path d="M314.43,228.7L321.14,232.58L315.99,228.21L309.28,222.81Z" fill="#0c93d2"/><path d="M272.14,210.26L278.85,205.84L273.7,210.86L266.99,214.73Z" fill="#fdbe3d"/><path d="M284,205.29L290.71,206.38L285.56,206.7L278.85,205.84Z" fill="#f9fb0e"/><path d="M241.71,237.7L248.42,232.13L243.27,233.6L236.56,237.54Z" fill="#3243ba"/><path d="M295.86,211.34L302.57,216.35L297.42,211.94L290.71,206.38Z" fill="#fdbe3d"/><path d="M253.57,230.11L260.28,221.84L255.13,226L248.42,232.13Z" fill="#0c93d2"/><path d="M307.72,224L314.43,228.7L309.28,222.81L302.57,216.35Z" fill="#2eb7a4"/><path d="M265.43,218.83L272.14,210.26L266.99,214.73L260.28,221.84Z" fill="#9cbf6f"/><path d="M319.58,235.37L326.29,237.38L321.14,232.58L314.43,228.7Z" fill="#0871de"/><path d="M277.29,209.94L284,205.29L278.85,205.84L272.14,210.26Z" fill="#f7d826"/><path d="M289.15,210.48L295.86,211.34L290.71,206.38L284,205.29Z" fill="#f7d826"/><path d="M246.86,237.54L253.57,230.11L248.42,232.13L241.71,237.7Z" fill="#0363e1"/><path d="M301.01,220.45L307.72,224L302.57,216.35L295.86,211.34Z" fill="#9cbf6f"/><path d="M258.72,228.85L265.43,218.83L260.28,221.84L253.57,230.11Z" fill="#07a9c2"/><path d="M312.87,232.81L319.58,235.37L314.43,228.7L307.72,224Z" fill="#0c93d2"/><path d="M270.58,219.07L277.29,209.94L272.14,210.26L265.43,218.83Z" fill="#c0bc60"/><path d="M324.73,241.48L331.44,241.87L326.29,237.38L319.58,235.37Z" fill="#3243ba"/><path d="M282.44,214.91L289.15,210.48L284,205.29L277.29,209.94Z" fill="#fdbe3d"/><path d="M294.3,220.15L301.01,220.45L295.86,211.34L289.15,210.48Z" fill="#c0bc60"/><path d="M252.01,237.82L258.72,228.85L253.57,230.11L246.86,237.54Z" fill="#0d75dc"/><path d="M306.16,231.01L312.87,232.81L307.72,224L301.01,220.45Z" fill="#07a9c2"/><path d="M263.87,229.78L270.58,219.07L265.43,218.83L258.72,228.85Z" fill="#15b1b4"/><path d="M318.02,240.78L324.73,241.48L319.58,235.37L312.87,232.81Z" fill="#0363e1"/><path d="M275.73,223.47L282.44,214.91L277.29,209.94L270.58,219.07Z" fill="#9cbf6f"/><path d="M287.59,224.01L294.3,220.15L289.15,210.48L282.44,214.91Z" fill="#9cbf6f"/><path d="M299.45,231.4L306.16,231.01L301.01,220.45L294.3,220.15Z" fill="#15b1b4"/><path d="M257.16,239.34L263.87,229.78L258.72,228.85L252.01,237.82Z" fill="#1079da"/><path d="M311.31,240.52L318.02,240.78L312.87,232.81L306.16,231.01Z" fill="#0d75dc"/><path d="M269.02,233.49L275.73,223.47L270.58,219.07L263.87,229.78Z" fill="#07a9c2"/><path d="M280.88,231.13L287.59,224.01L282.44,214.91L275.73,223.47Z" fill="#2eb7a4"/><path d="M292.74,234.57L299.45,231.4L294.3,220.15L287.59,224.01Z" fill="#07a9c2"/><path d="M304.6,241.5L311.31,240.52L306.16,231.01L299.45,231.4Z" fill="#1079da"/><path d="M262.31,242.46L269.02,233.49L263.87,229.78L257.16,239.34Z" fill="#0d75dc"/><path d="M274.17,239.39L280.88,231.13L275.73,223.47L269.02,233.49Z" fill="#0c93d2"/><path d="M286.03,239.93L292.74,234.57L287.59,224.01L280.88,231.13Z" fill="#0c93d2"/><path d="M297.89,244.08L304.6,241.5L299.45,231.4L292.74,234.57Z" fill="#0d75dc"/><path d="M267.46,246.82L274.17,239.39L269.02,233.49L262.31,242.46Z" fill="#0363e1"/><path d="M279.32,246.06L286.03,239.93L280.88,231.13L274.17,239.39Z" fill="#0871de"/><path d="M291.18,247.9L297.89,244.08L292.74,234.57L286.03,239.93Z" fill="#0363e1"/><path d="M272.61,251.63L279.32,246.06L274.17,239.39L267.46,246.82Z" fill="#3243ba"/><path d="M284.47,252.17L291.18,247.9L286.03,239.93L279.32,246.06Z" fill="#3243ba"/><path d="M277.75,256.11L284.47,252.17L279.32,246.06L272.61,251.63Z" fill="#352a87"/></g>
<g fill="#262626" text-rendering="geometricPrecision"><text transform="translate(283.3 165.1) scale(1 1.0)" text-anchor="middle" font-size="17.1" fill="#000">2.5</text><text transform="translate(216.8 242.34) scale(1 1.08)" text-anchor="end" font-size="14.8">0</text><text transform="translate(216.8 217) scale(1 1.08)" text-anchor="end" font-size="14.8">0.02</text><text transform="translate(216.8 191.66) scale(1 1.08)" text-anchor="end" font-size="14.8">0.04</text><text transform="translate(283.09 281.9) scale(1 1.08)" text-anchor="start" font-size="14.8">0</text><text transform="translate(267.69 280.5) scale(1 1.08)" text-anchor="end" font-size="14.8">0</text><text transform="translate(316.65 272.99) scale(1 1.08)" text-anchor="start" font-size="14.8">5</text><text transform="translate(241.95 268.89) scale(1 1.08)" text-anchor="end" font-size="14.8">5</text><text transform="translate(350.2 264.09) scale(1 1.08)" text-anchor="start" font-size="14.8">10</text><text transform="translate(216.2 257.29) scale(1 1.08)" text-anchor="end" font-size="14.8">10</text></g>
<g fill="none" shape-rendering="auto"><line x1="455.09" y1="263.1" x2="403.6" y2="239.89" stroke="#dfdfdf" stroke-width="1"/><line x1="455.09" y1="263.1" x2="522.2" y2="245.29" stroke="#dfdfdf" stroke-width="1"/><line x1="403.6" y1="239.89" x2="403.6" y2="189.21" stroke="#dfdfdf" stroke-width="1"/><line x1="522.2" y1="245.29" x2="522.2" y2="194.61" stroke="#dfdfdf" stroke-width="1"/><line x1="488.65" y1="254.19" x2="437.15" y2="230.98" stroke="#dfdfdf" stroke-width="1"/><line x1="429.35" y1="251.49" x2="496.45" y2="233.68" stroke="#dfdfdf" stroke-width="1"/><line x1="437.15" y1="230.98" x2="437.15" y2="180.31" stroke="#dfdfdf" stroke-width="1"/><line x1="496.45" y1="233.68" x2="496.45" y2="183.01" stroke="#dfdfdf" stroke-width="1"/><line x1="522.2" y1="245.29" x2="470.71" y2="222.08" stroke="#dfdfdf" stroke-width="1"/><line x1="403.6" y1="239.89" x2="470.71" y2="222.08" stroke="#dfdfdf" stroke-width="1"/><line x1="470.71" y1="222.08" x2="470.71" y2="171.4" stroke="#dfdfdf" stroke-width="1"/><line x1="470.71" y1="222.08" x2="470.71" y2="171.4" stroke="#dfdfdf" stroke-width="1"/><line x1="403.6" y1="239.89" x2="470.71" y2="222.08" stroke="#dfdfdf" stroke-width="1"/><line x1="470.71" y1="222.08" x2="522.2" y2="245.29" stroke="#dfdfdf" stroke-width="1"/><line x1="403.6" y1="214.55" x2="470.71" y2="196.74" stroke="#dfdfdf" stroke-width="1"/><line x1="470.71" y1="196.74" x2="522.2" y2="219.95" stroke="#dfdfdf" stroke-width="1"/><line x1="403.6" y1="189.21" x2="470.71" y2="171.4" stroke="#dfdfdf" stroke-width="1"/><line x1="470.71" y1="171.4" x2="522.2" y2="194.61" stroke="#dfdfdf" stroke-width="1"/><line x1="403.6" y1="239.89" x2="403.6" y2="189.21" stroke="#262626" stroke-width="0.8"/><line x1="455.09" y1="263.1" x2="522.2" y2="245.29" stroke="#262626" stroke-width="0.8"/><line x1="455.09" y1="263.1" x2="403.6" y2="239.89" stroke="#262626" stroke-width="0.8"/><line x1="403.6" y1="239.89" x2="401.78" y2="239.07" stroke="#262626" stroke-width="0.8"/><line x1="403.6" y1="214.55" x2="401.78" y2="213.73" stroke="#262626" stroke-width="0.8"/><line x1="403.6" y1="189.21" x2="401.78" y2="188.39" stroke="#262626" stroke-width="0.8"/><line x1="455.09" y1="263.1" x2="456.92" y2="263.92" stroke="#262626" stroke-width="0.8"/><line x1="455.09" y1="263.1" x2="453.16" y2="263.61" stroke="#262626" stroke-width="0.8"/><line x1="488.65" y1="254.19" x2="490.47" y2="255.02" stroke="#262626" stroke-width="0.8"/><line x1="429.35" y1="251.49" x2="427.41" y2="252.01" stroke="#262626" stroke-width="0.8"/><line x1="522.2" y1="245.29" x2="524.02" y2="246.11" stroke="#262626" stroke-width="0.8"/><line x1="403.6" y1="239.89" x2="401.67" y2="240.4" stroke="#262626" stroke-width="0.8"/></g>
<g stroke="#000" stroke-width="0.7" stroke-linejoin="round" stroke-linecap="round"><path d="M467.58,219.35L474.29,221.09L469.15,221.16L462.43,220.55Z" fill="#1481d6"/><path d="M460.87,217.63L467.58,219.35L462.43,220.55L455.72,219.96Z" fill="#06a7c6"/><path d="M472.73,218.17L479.44,221.04L474.29,221.09L467.58,219.35Z" fill="#06a7c6"/><path d="M454.16,216.79L460.87,217.63L455.72,219.96L449.01,219.96Z" fill="#2eb7a4"/><path d="M466.02,215.33L472.73,218.17L467.58,219.35L460.87,217.63Z" fill="#65be86"/><path d="M477.88,217.87L484.59,221.58L479.44,221.04L472.73,218.17Z" fill="#2eb7a4"/><path d="M447.45,217.6L454.16,216.79L449.01,219.96L442.3,221.08Z" fill="#42bb98"/><path d="M459.31,213.65L466.02,215.33L460.87,217.63L454.16,216.79Z" fill="#c0bc60"/><path d="M471.17,214.19L477.88,217.87L472.73,218.17L466.02,215.33Z" fill="#c0bc60"/><path d="M483.03,219.22L489.74,223.24L484.59,221.58L477.88,217.87Z" fill="#42bb98"/><path d="M440.74,220.35L447.45,217.6L442.3,221.08L435.59,223.53Z" fill="#2eb7a4"/><path d="M452.6,214.15L459.31,213.65L454.16,216.79L447.45,217.6Z" fill="#d9ba56"/><path d="M464.46,211.89L471.17,214.19L466.02,215.33L459.31,213.65Z" fill="#fec832"/><path d="M476.32,215.23L483.03,219.22L477.88,217.87L471.17,214.19Z" fill="#d9ba56"/><path d="M440.74,220.35L428.88,227.08L435.59,223.53Z" fill="#06a7c6" stroke="none"/><path d="M440.74,220.35L435.59,223.53L428.88,227.08" fill="none"/><path d="M440.74,220.35L428.88,227.08L434.03,224.75Z" fill="#06a7c6" stroke="none"/><path d="M440.74,220.35L434.03,224.75L428.88,227.08" fill="none"/><path d="M494.89,226.23L483.03,219.22L489.74,223.24Z" fill="#2eb7a4" stroke="none"/><path d="M494.89,226.23L489.74,223.24L483.03,219.22" fill="none"/><path d="M494.89,226.23L483.03,219.22L488.18,222.51Z" fill="#2eb7a4" stroke="none"/><path d="M494.89,226.23L488.18,222.51L483.03,219.22" fill="none"/><path d="M445.89,217.21L452.6,214.15L447.45,217.6L440.74,220.35Z" fill="#c0bc60"/><path d="M457.75,212.15L464.46,211.89L459.31,213.65L452.6,214.15Z" fill="#f5de21"/><path d="M469.61,212.69L476.32,215.23L471.17,214.19L464.46,211.89Z" fill="#f5de21"/><path d="M427.32,230.03L434.03,224.75L428.88,227.08L422.17,231.24Z" fill="#1481d6"/><path d="M481.47,218.83L488.18,222.51L483.03,219.22L476.32,215.23Z" fill="#c0bc60"/><path d="M439.18,222.45L445.89,217.21L440.74,220.35L434.03,224.75Z" fill="#65be86"/><path d="M493.33,227.45L500.04,230.32L494.89,226.23L488.18,222.51Z" fill="#06a7c6"/><path d="M451.04,215.45L457.75,212.15L452.6,214.15L445.89,217.21Z" fill="#fec832"/><path d="M462.9,212.87L469.61,212.69L464.46,211.89L457.75,212.15Z" fill="#f9fb0e"/><path d="M420.61,235.34L427.32,230.03L422.17,231.24L415.46,235.4Z" fill="#2053d4"/><path d="M474.76,216.53L481.47,218.83L476.32,215.23L469.61,212.69Z" fill="#fec832"/><path d="M432.47,228.85L439.18,222.45L434.03,224.75L427.32,230.03Z" fill="#06a7c6"/><path d="M486.62,224.61L493.33,227.45L488.18,222.51L481.47,218.83Z" fill="#65be86"/><path d="M444.33,221.31L451.04,215.45L445.89,217.21L439.18,222.45Z" fill="#c0bc60"/><path d="M498.48,233.27L505.19,235.02L500.04,230.32L493.33,227.45Z" fill="#1481d6"/><path d="M456.19,216.25L462.9,212.87L457.75,212.15L451.04,215.45Z" fill="#f5de21"/><path d="M468.05,216.79L474.76,216.53L469.61,212.69L462.9,212.87Z" fill="#f5de21"/><path d="M425.76,235.29L432.47,228.85L427.32,230.03L420.61,235.34Z" fill="#0d75dc"/><path d="M479.91,222.94L486.62,224.61L481.47,218.83L474.76,216.53Z" fill="#c0bc60"/><path d="M437.62,228.56L444.33,221.31L439.18,222.45L432.47,228.85Z" fill="#2eb7a4"/><path d="M491.77,231.55L498.48,233.27L493.33,227.45L486.62,224.61Z" fill="#06a7c6"/><path d="M449.48,222.35L456.19,216.25L451.04,215.45L444.33,221.31Z" fill="#d9ba56"/><path d="M503.63,239.12L510.34,239.73L505.19,235.02L498.48,233.27Z" fill="#2053d4"/><path d="M461.34,220.09L468.05,216.79L462.9,212.87L456.19,216.25Z" fill="#fec832"/><path d="M473.2,223.43L479.91,222.94L474.76,216.53L468.05,216.79Z" fill="#d9ba56"/><path d="M430.91,235.83L437.62,228.56L432.47,228.85L425.76,235.29Z" fill="#1485d4"/><path d="M485.06,230.72L491.77,231.55L486.62,224.61L479.91,222.94Z" fill="#2eb7a4"/><path d="M442.77,229.9L449.48,222.35L444.33,221.31L437.62,228.56Z" fill="#42bb98"/><path d="M496.92,238.53L503.63,239.12L498.48,233.27L491.77,231.55Z" fill="#0d75dc"/><path d="M454.63,225.96L461.34,220.09L456.19,216.25L449.48,222.35Z" fill="#c0bc60"/><path d="M466.49,226.5L473.2,223.43L468.05,216.79L461.34,220.09Z" fill="#c0bc60"/><path d="M478.35,231.52L485.06,230.72L479.91,222.94L473.2,223.43Z" fill="#42bb98"/><path d="M436.06,237.49L442.77,229.9L437.62,228.56L430.91,235.83Z" fill="#108ed2"/><path d="M490.21,238.53L496.92,238.53L491.77,231.55L485.06,230.72Z" fill="#1485d4"/><path d="M447.92,233.2L454.63,225.96L449.48,222.35L442.77,229.9Z" fill="#2eb7a4"/><path d="M459.78,231.73L466.49,226.5L461.34,220.09L454.63,225.96Z" fill="#65be86"/><path d="M471.64,234.28L478.35,231.52L473.2,223.43L466.49,226.5Z" fill="#2eb7a4"/><path d="M483.5,239.65L490.21,238.53L485.06,230.72L478.35,231.52Z" fill="#108ed2"/><path d="M441.21,240.47L447.92,233.2L442.77,229.9L436.06,237.49Z" fill="#1485d4"/><path d="M453.07,238.14L459.78,231.73L454.63,225.96L447.92,233.2Z" fill="#06a7c6"/><path d="M464.93,238.68L471.64,234.28L466.49,226.5L459.78,231.73Z" fill="#06a7c6"/><path d="M476.79,242.1L483.5,239.65L478.35,231.52L471.64,234.28Z" fill="#1485d4"/><path d="M446.36,244.57L453.07,238.14L447.92,233.2L441.21,240.47Z" fill="#0d75dc"/><path d="M458.22,243.96L464.93,238.68L459.78,231.73L453.07,238.14Z" fill="#1481d6"/><path d="M470.08,245.65L476.79,242.1L471.64,234.28L464.93,238.68Z" fill="#0d75dc"/><path d="M451.51,249.26L458.22,243.96L453.07,238.14L446.36,244.57Z" fill="#2053d4"/><path d="M463.37,249.8L470.08,245.65L464.93,238.68L458.22,243.96Z" fill="#2053d4"/><path d="M456.65,253.97L463.37,249.8L458.22,243.96L451.51,249.26Z" fill="#352a87"/></g>
<g fill="#262626" text-rendering="geometricPrecision"><text transform="translate(462.2 165.1) scale(1 1.0)" text-anchor="middle" font-size="17.1" fill="#000">3</text><text transform="translate(395.7 242.34) scale(1 1.08)" text-anchor="end" font-size="14.8">0</text><text transform="translate(395.7 217) scale(1 1.08)" text-anchor="end" font-size="14.8">0.02</text><text transform="translate(395.7 191.66) scale(1 1.08)" text-anchor="end" font-size="14.8">0.04</text><text transform="translate(461.99 281.9) scale(1 1.08)" text-anchor="start" font-size="14.8">0</text><text transform="translate(446.59 280.5) scale(1 1.08)" text-anchor="end" font-size="14.8">0</text><text transform="translate(495.55 272.99) scale(1 1.08)" text-anchor="start" font-size="14.8">5</text><text transform="translate(420.85 268.89) scale(1 1.08)" text-anchor="end" font-size="14.8">5</text><text transform="translate(529.1 264.09) scale(1 1.08)" text-anchor="start" font-size="14.8">10</text><text transform="translate(395.1 257.29) scale(1 1.08)" text-anchor="end" font-size="14.8">10</text></g>
<g fill="none" shape-rendering="auto"><line x1="96.69" y1="406.5" x2="45.2" y2="383.29" stroke="#dfdfdf" stroke-width="1"/><line x1="96.69" y1="406.5" x2="163.8" y2="388.69" stroke="#dfdfdf" stroke-width="1"/><line x1="45.2" y1="383.29" x2="45.2" y2="332.61" stroke="#dfdfdf" stroke-width="1"/><line x1="163.8" y1="388.69" x2="163.8" y2="338.01" stroke="#dfdfdf" stroke-width="1"/><line x1="130.25" y1="397.59" x2="78.75" y2="374.38" stroke="#dfdfdf" stroke-width="1"/><line x1="70.95" y1="394.89" x2="138.05" y2="377.08" stroke="#dfdfdf" stroke-width="1"/><line x1="78.75" y1="374.38" x2="78.75" y2="323.71" stroke="#dfdfdf" stroke-width="1"/><line x1="138.05" y1="377.08" x2="138.05" y2="326.41" stroke="#dfdfdf" stroke-width="1"/><line x1="163.8" y1="388.69" x2="112.31" y2="365.48" stroke="#dfdfdf" stroke-width="1"/><line x1="45.2" y1="383.29" x2="112.31" y2="365.48" stroke="#dfdfdf" stroke-width="1"/><line x1="112.31" y1="365.48" x2="112.31" y2="314.8" stroke="#dfdfdf" stroke-width="1"/><line x1="112.31" y1="365.48" x2="112.31" y2="314.8" stroke="#dfdfdf" stroke-width="1"/><line x1="45.2" y1="383.29" x2="112.31" y2="365.48" stroke="#dfdfdf" stroke-width="1"/><line x1="112.31" y1="365.48" x2="163.8" y2="388.69" stroke="#dfdfdf" stroke-width="1"/><line x1="45.2" y1="357.95" x2="112.31" y2="340.14" stroke="#dfdfdf" stroke-width="1"/><line x1="112.31" y1="340.14" x2="163.8" y2="363.35" stroke="#dfdfdf" stroke-width="1"/><line x1="45.2" y1="332.61" x2="112.31" y2="314.8" stroke="#dfdfdf" stroke-width="1"/><line x1="112.31" y1="314.8" x2="163.8" y2="338.01" stroke="#dfdfdf" stroke-width="1"/><line x1="45.2" y1="383.29" x2="45.2" y2="332.61" stroke="#262626" stroke-width="0.8"/><line x1="96.69" y1="406.5" x2="163.8" y2="388.69" stroke="#262626" stroke-width="0.8"/><line x1="96.69" y1="406.5" x2="45.2" y2="383.29" stroke="#262626" stroke-width="0.8"/><line x1="45.2" y1="383.29" x2="43.38" y2="382.47" stroke="#262626" stroke-width="0.8"/><line x1="45.2" y1="357.95" x2="43.38" y2="357.13" stroke="#262626" stroke-width="0.8"/><line x1="45.2" y1="332.61" x2="43.38" y2="331.79" stroke="#262626" stroke-width="0.8"/><line x1="96.69" y1="406.5" x2="98.52" y2="407.32" stroke="#262626" stroke-width="0.8"/><line x1="96.69" y1="406.5" x2="94.76" y2="407.01" stroke="#262626" stroke-width="0.8"/><line x1="130.25" y1="397.59" x2="132.07" y2="398.42" stroke="#262626" stroke-width="0.8"/><line x1="70.95" y1="394.89" x2="69.01" y2="395.41" stroke="#262626" stroke-width="0.8"/><line x1="163.8" y1="388.69" x2="165.62" y2="389.51" stroke="#262626" stroke-width="0.8"/><line x1="45.2" y1="383.29" x2="43.27" y2="383.8" stroke="#262626" stroke-width="0.8"/></g>
<g stroke="#000" stroke-width="0.7" stroke-linejoin="round" stroke-linecap="round"><path d="M109.18,361.44L115.89,362.7L110.75,362.66L104.03,362.16Z" fill="#108ed2"/><path d="M102.47,360.45L109.18,361.44L104.03,362.16L97.32,361.86Z" fill="#0faeb9"/><path d="M114.33,360.99L121.04,362.94L115.89,362.7L109.18,361.44Z" fill="#0faeb9"/><path d="M95.76,360.27L102.47,360.45L97.32,361.86L90.61,362.17Z" fill="#4dbc92"/><path d="M107.62,359.37L114.33,360.99L109.18,361.44L102.47,360.45Z" fill="#87bf77"/><path d="M119.48,361.35L126.19,363.79L121.04,362.94L114.33,360.99Z" fill="#4dbc92"/><path d="M89.05,361.34L95.76,360.27L90.61,362.17L83.9,363.42Z" fill="#71bf80"/><path d="M100.91,358.75L107.62,359.37L102.47,360.45L95.76,360.27Z" fill="#d1bb59"/><path d="M112.77,359.29L119.48,361.35L114.33,360.99L107.62,359.37Z" fill="#d1bb59"/><path d="M124.63,362.97L131.34,365.58L126.19,363.79L119.48,361.35Z" fill="#71bf80"/><path d="M89.05,361.34L77.19,365.73L83.9,363.42Z" fill="#4dbc92" stroke="none"/><path d="M89.05,361.34L83.9,363.42L77.19,365.73" fill="none"/><path d="M89.05,361.34L77.19,365.73L82.34,363.83Z" fill="#4dbc92" stroke="none"/><path d="M89.05,361.34L82.34,363.83L77.19,365.73" fill="none"/><path d="M94.2,359.66L100.91,358.75L95.76,360.27L89.05,361.34Z" fill="#e9b94e"/><path d="M106.06,358.36L112.77,359.29L107.62,359.37L100.91,358.75Z" fill="#fad32a"/><path d="M124.63,362.97L112.77,359.29L119.48,361.35Z" fill="#e9b94e" stroke="none"/><path d="M124.63,362.97L119.48,361.35L112.77,359.29" fill="none"/><path d="M124.63,362.97L112.77,359.29L117.92,360.74Z" fill="#e9b94e" stroke="none"/><path d="M124.63,362.97L117.92,360.74L112.77,359.29" fill="none"/><path d="M75.63,367.57L82.34,363.83L77.19,365.73L70.48,368.98Z" fill="#0faeb9"/><path d="M129.78,365.99L136.49,368.43L131.34,365.58L124.63,362.97Z" fill="#4dbc92"/><path d="M87.49,362.31L94.2,359.66L89.05,361.34L82.34,363.83Z" fill="#d1bb59"/><path d="M99.35,359.16L106.06,358.36L100.91,358.75L94.2,359.66Z" fill="#f5e41d"/><path d="M111.21,359.7L117.92,360.74L112.77,359.29L106.06,358.36Z" fill="#f5e41d"/><path d="M68.92,372.12L75.63,367.57L70.48,368.98L63.77,372.85Z" fill="#108ed2"/><path d="M123.07,363.93L129.78,365.99L124.63,362.97L117.92,360.74Z" fill="#d1bb59"/><path d="M80.78,366.49L87.49,362.31L82.34,363.83L75.63,367.57Z" fill="#87bf77"/><path d="M134.93,370.27L141.64,372.22L136.49,368.43L129.78,365.99Z" fill="#0faeb9"/><path d="M92.64,361.92L99.35,359.16L94.2,359.66L87.49,362.31Z" fill="#fad32a"/><path d="M104.5,360.46L111.21,359.7L106.06,358.36L99.35,359.16Z" fill="#f9fb0e"/><path d="M62.21,376.95L68.92,372.12L63.77,372.85L57.06,376.91Z" fill="#0f5cdd"/><path d="M116.36,363L123.07,363.93L117.92,360.74L111.21,359.7Z" fill="#fad32a"/><path d="M74.07,371.67L80.78,366.49L75.63,367.57L68.92,372.12Z" fill="#0faeb9"/><path d="M128.22,368.65L134.93,370.27L129.78,365.99L123.07,363.93Z" fill="#87bf77"/><path d="M85.93,366.41L92.64,361.92L87.49,362.31L80.78,366.49Z" fill="#d1bb59"/><path d="M140.08,375.36L146.79,376.63L141.64,372.22L134.93,370.27Z" fill="#108ed2"/><path d="M97.79,363.26L104.5,360.46L99.35,359.16L92.64,361.92Z" fill="#f5e41d"/><path d="M109.65,363.8L116.36,363L111.21,359.7L104.5,360.46Z" fill="#f5e41d"/><path d="M67.36,377.19L74.07,371.67L68.92,372.12L62.21,376.95Z" fill="#1481d6"/><path d="M121.51,368.03L128.22,368.65L123.07,363.93L116.36,363Z" fill="#d1bb59"/><path d="M79.22,372.04L85.93,366.41L80.78,366.49L74.07,371.67Z" fill="#4dbc92"/><path d="M133.37,374.37L140.08,375.36L134.93,370.27L128.22,368.65Z" fill="#0faeb9"/><path d="M91.08,367.87L97.79,363.26L92.64,361.92L85.93,366.41Z" fill="#e9b94e"/><path d="M145.23,380.73L151.94,381.23L146.79,376.63L140.08,375.36Z" fill="#0f5cdd"/><path d="M102.94,366.56L109.65,363.8L104.5,360.46L97.79,363.26Z" fill="#fad32a"/><path d="M114.8,368.95L121.51,368.03L116.36,363L109.65,363.8Z" fill="#e9b94e"/><path d="M72.51,378.04L79.22,372.04L74.07,371.67L67.36,377.19Z" fill="#0998d1"/><path d="M126.66,374.2L133.37,374.37L128.22,368.65L121.51,368.03Z" fill="#4dbc92"/><path d="M84.37,373.65L91.08,367.87L85.93,366.41L79.22,372.04Z" fill="#71bf80"/><path d="M138.52,380.43L145.23,380.73L140.08,375.36L133.37,374.37Z" fill="#1481d6"/><path d="M96.23,371.06L102.94,366.56L97.79,363.26L91.08,367.87Z" fill="#d1bb59"/><path d="M108.09,371.6L114.8,368.95L109.65,363.8L102.94,366.56Z" fill="#d1bb59"/><path d="M119.95,375.27L126.66,374.2L121.51,368.03L114.8,368.95Z" fill="#71bf80"/><path d="M77.66,379.83L84.37,373.65L79.22,372.04L72.51,378.04Z" fill="#079ccf"/><path d="M131.81,380.74L138.52,380.43L133.37,374.37L126.66,374.2Z" fill="#0998d1"/><path d="M89.52,376.68L96.23,371.06L91.08,367.87L84.37,373.65Z" fill="#4dbc92"/><path d="M101.38,375.78L108.09,371.6L102.94,366.56L96.23,371.06Z" fill="#87bf77"/><path d="M113.24,377.76L119.95,375.27L114.8,368.95L108.09,371.6Z" fill="#4dbc92"/><path d="M125.1,381.99L131.81,380.74L126.66,374.2L119.95,375.27Z" fill="#079ccf"/><path d="M82.81,382.68L89.52,376.68L84.37,373.65L77.66,379.83Z" fill="#0998d1"/><path d="M94.67,380.96L101.38,375.78L96.23,371.06L89.52,376.68Z" fill="#0faeb9"/><path d="M106.53,381.5L113.24,377.76L108.09,371.6L101.38,375.78Z" fill="#0faeb9"/><path d="M118.39,384.3L125.1,381.99L119.95,375.27L113.24,377.76Z" fill="#0998d1"/><path d="M87.96,386.47L94.67,380.96L89.52,376.68L82.81,382.68Z" fill="#1481d6"/><path d="M99.82,386.05L106.53,381.5L101.38,375.78L94.67,380.96Z" fill="#108ed2"/><path d="M111.68,387.55L118.39,384.3L113.24,377.76L106.53,381.5Z" fill="#1481d6"/><path d="M93.11,390.88L99.82,386.05L94.67,380.96L87.96,386.47Z" fill="#0f5cdd"/><path d="M104.97,391.42L111.68,387.55L106.53,381.5L99.82,386.05Z" fill="#0f5cdd"/><path d="M98.25,395.48L104.97,391.42L99.82,386.05L93.11,390.88Z" fill="#352a87"/></g>
<g fill="#262626" text-rendering="geometricPrecision"><text transform="translate(103.8 308.5) scale(1 1.0)" text-anchor="middle" font-size="17.1" fill="#000">3.5</text><text transform="translate(37.3 385.74) scale(1 1.08)" text-anchor="end" font-size="14.8">0</text><text transform="translate(37.3 360.4) scale(1 1.08)" text-anchor="end" font-size="14.8">0.02</text><text transform="translate(37.3 335.06) scale(1 1.08)" text-anchor="end" font-size="14.8">0.04</text><text transform="translate(103.59 425.3) scale(1 1.08)" text-anchor="start" font-size="14.8">0</text><text transform="translate(88.19 423.9) scale(1 1.08)" text-anchor="end" font-size="14.8">0</text><text transform="translate(137.15 416.39) scale(1 1.08)" text-anchor="start" font-size="14.8">5</text><text transform="translate(62.45 412.29) scale(1 1.08)" text-anchor="end" font-size="14.8">5</text><text transform="translate(170.7 407.49) scale(1 1.08)" text-anchor="start" font-size="14.8">10</text><text transform="translate(36.7 400.69) scale(1 1.08)" text-anchor="end" font-size="14.8">10</text></g>
<g fill="none" shape-rendering="auto"><line x1="276.19" y1="406.5" x2="224.7" y2="383.29" stroke="#dfdfdf" stroke-width="1"/><line x1="276.19" y1="406.5" x2="343.3" y2="388.69" stroke="#dfdfdf" stroke-width="1"/><line x1="224.7" y1="383.29" x2="224.7" y2="332.61" stroke="#dfdfdf" stroke-width="1"/><line x1="343.3" y1="388.69" x2="343.3" y2="338.01" stroke="#dfdfdf" stroke-width="1"/><line x1="309.75" y1="397.59" x2="258.25" y2="374.38" stroke="#dfdfdf" stroke-width="1"/><line x1="250.45" y1="394.89" x2="317.55" y2="377.08" stroke="#dfdfdf" stroke-width="1"/><line x1="258.25" y1="374.38" x2="258.25" y2="323.71" stroke="#dfdfdf" stroke-width="1"/><line x1="317.55" y1="377.08" x2="317.55" y2="326.41" stroke="#dfdfdf" stroke-width="1"/><line x1="343.3" y1="388.69" x2="291.81" y2="365.48" stroke="#dfdfdf" stroke-width="1"/><line x1="224.7" y1="383.29" x2="291.81" y2="365.48" stroke="#dfdfdf" stroke-width="1"/><line x1="291.81" y1="365.48" x2="291.81" y2="314.8" stroke="#dfdfdf" stroke-width="1"/><line x1="291.81" y1="365.48" x2="291.81" y2="314.8" stroke="#dfdfdf" stroke-width="1"/><line x1="224.7" y1="383.29" x2="291.81" y2="365.48" stroke="#dfdfdf" stroke-width="1"/><line x1="291.81" y1="365.48" x2="343.3" y2="388.69" stroke="#dfdfdf" stroke-width="1"/><line x1="224.7" y1="357.95" x2="291.81" y2="340.14" stroke="#dfdfdf" stroke-width="1"/><line x1="291.81" y1="340.14" x2="343.3" y2="363.35" stroke="#dfdfdf" stroke-width="1"/><line x1="224.7" y1="332.61" x2="291.81" y2="314.8" stroke="#dfdfdf" stroke-width="1"/><line x1="291.81" y1="314.8" x2="343.3" y2="338.01" stroke="#dfdfdf" stroke-width="1"/><line x1="224.7" y1="383.29" x2="224.7" y2="332.61" stroke="#262626" stroke-width="0.8"/><line x1="276.19" y1="406.5" x2="343.3" y2="388.69" stroke="#262626" stroke-width="0.8"/><line x1="276.19" y1="406.5" x2="224.7" y2="383.29" stroke="#262626" stroke-width="0.8"/><line x1="224.7" y1="383.29" x2="222.88" y2="382.47" stroke="#262626" stroke-width="0.8"/><line x1="224.7" y1="357.95" x2="222.88" y2="357.13" stroke="#262626" stroke-width="0.8"/><line x1="224.7" y1="332.61" x2="222.88" y2="331.79" stroke="#262626" stroke-width="0.8"/><line x1="276.19" y1="406.5" x2="278.02" y2="407.32" stroke="#262626" stroke-width="0.8"/><line x1="276.19" y1="406.5" x2="274.26" y2="407.01" stroke="#262626" stroke-width="0.8"/><line x1="309.75" y1="397.59" x2="311.57" y2="398.42" stroke="#262626" stroke-width="0.8"/><line x1="250.45" y1="394.89" x2="248.51" y2="395.41" stroke="#262626" stroke-width="0.8"/><line x1="343.3" y1="388.69" x2="345.12" y2="389.51" stroke="#262626" stroke-width="0.8"/><line x1="224.7" y1="383.29" x2="222.77" y2="383.8" stroke="#262626" stroke-width="0.8"/></g>
<g stroke="#000" stroke-width="0.7" stroke-linejoin="round" stroke-linecap="round"><path d="M288.68,347.5L295.39,350.86L290.25,352.68L283.53,350.32Z" fill="#0998d1"/><path d="M281.97,344.86L288.68,347.5L283.53,350.32L276.82,348.55Z" fill="#25b5a9"/><path d="M293.83,345.4L300.54,349.63L295.39,350.86L288.68,347.5Z" fill="#25b5a9"/><path d="M275.26,343.63L281.97,344.86L276.82,348.55L270.11,347.91Z" fill="#65be86"/><path d="M287.12,342L293.83,345.4L288.68,347.5L281.97,344.86Z" fill="#9cbf6f"/><path d="M298.98,344.71L305.69,349.53L300.54,349.63L293.83,345.4Z" fill="#65be86"/><path d="M268.55,344.34L275.26,343.63L270.11,347.91L263.4,348.84Z" fill="#87bf77"/><path d="M280.41,340.27L287.12,342L281.97,344.86L275.26,343.63Z" fill="#e1b952"/><path d="M292.27,340.81L298.98,344.71L293.83,345.4L287.12,342Z" fill="#e1b952"/><path d="M304.13,345.96L310.84,351L305.69,349.53L298.98,344.71Z" fill="#87bf77"/><path d="M261.84,347.19L268.55,344.34L263.4,348.84L256.69,351.47Z" fill="#65be86"/><path d="M273.7,340.8L280.41,340.27L275.26,343.63L268.55,344.34Z" fill="#f8bb44"/><path d="M285.56,338.72L292.27,340.81L287.12,342L280.41,340.27Z" fill="#fad32a"/><path d="M297.42,341.88L304.13,345.96L298.98,344.71L292.27,340.81Z" fill="#f8bb44"/><path d="M255.13,351.98L261.84,347.19L256.69,351.47L249.98,355.67Z" fill="#25b5a9"/><path d="M309.28,349.35L315.99,354.17L310.84,351L304.13,345.96Z" fill="#65be86"/><path d="M266.99,343.83L273.7,340.8L268.55,344.34L261.84,347.19Z" fill="#e1b952"/><path d="M278.85,339.14L285.56,338.72L280.41,340.27L273.7,340.8Z" fill="#f5e41d"/><path d="M290.71,339.68L297.42,341.88L292.27,340.81L285.56,338.72Z" fill="#f5e41d"/><path d="M248.42,358.19L255.13,351.98L249.98,355.67L243.27,361.01Z" fill="#0998d1"/><path d="M302.57,345.45L309.28,349.35L304.13,345.96L297.42,341.88Z" fill="#e1b952"/><path d="M260.28,349.13L266.99,343.83L261.84,347.19L255.13,351.98Z" fill="#9cbf6f"/><path d="M314.43,354.68L321.14,358.91L315.99,354.17L309.28,349.35Z" fill="#25b5a9"/><path d="M272.14,342.29L278.85,339.14L273.7,340.8L266.99,343.83Z" fill="#fad32a"/><path d="M284,340.04L290.71,339.68L285.56,338.72L278.85,339.14Z" fill="#f9fb0e"/><path d="M241.71,365.11L248.42,358.19L243.27,361.01L236.56,366.93Z" fill="#0268e1"/><path d="M295.86,343.37L302.57,345.45L297.42,341.88L290.71,339.68Z" fill="#fad32a"/><path d="M253.57,356.08L260.28,349.13L255.13,351.98L248.42,358.19Z" fill="#25b5a9"/><path d="M307.72,351.29L314.43,354.68L309.28,349.35L302.57,345.45Z" fill="#9cbf6f"/><path d="M265.43,347.93L272.14,342.29L266.99,343.83L260.28,349.13Z" fill="#e1b952"/><path d="M319.58,361.43L326.29,364.79L321.14,358.91L314.43,354.68Z" fill="#0998d1"/><path d="M277.29,343.24L284,340.04L278.85,339.14L272.14,342.29Z" fill="#f5e41d"/><path d="M289.15,343.78L295.86,343.37L290.71,339.68L284,340.04Z" fill="#f5e41d"/><path d="M246.86,363.88L253.57,356.08L248.42,358.19L241.71,365.11Z" fill="#1485d4"/><path d="M301.01,349.55L307.72,351.29L302.57,345.45L295.86,343.37Z" fill="#e1b952"/><path d="M258.72,355.4L265.43,347.93L260.28,349.13L253.57,356.08Z" fill="#65be86"/><path d="M312.87,358.78L319.58,361.43L314.43,354.68L307.72,351.29Z" fill="#25b5a9"/><path d="M270.58,349L277.29,343.24L272.14,342.29L265.43,347.93Z" fill="#f8bb44"/><path d="M324.73,368.89L331.44,371.25L326.29,364.79L319.58,361.43Z" fill="#0268e1"/><path d="M282.44,346.93L289.15,343.78L284,340.04L277.29,343.24Z" fill="#fad32a"/><path d="M294.3,350.08L301.01,349.55L295.86,343.37L289.15,343.78Z" fill="#f8bb44"/><path d="M252.01,363.78L258.72,355.4L253.57,356.08L246.86,363.88Z" fill="#06a0cd"/><path d="M306.16,357.56L312.87,358.78L307.72,351.29L301.01,349.55Z" fill="#65be86"/><path d="M263.87,356.65L270.58,349L265.43,347.93L258.72,355.4Z" fill="#87bf77"/><path d="M318.02,367.12L324.73,368.89L319.58,361.43L312.87,358.78Z" fill="#1485d4"/><path d="M275.73,352.57L282.44,346.93L277.29,343.24L270.58,349Z" fill="#e1b952"/><path d="M287.59,353.11L294.3,350.08L289.15,343.78L282.44,346.93Z" fill="#e1b952"/><path d="M299.45,358.27L306.16,357.56L301.01,349.55L294.3,350.08Z" fill="#87bf77"/><path d="M257.16,365.25L263.87,356.65L258.72,355.4L252.01,363.78Z" fill="#06a7c6"/><path d="M311.31,366.48L318.02,367.12L312.87,358.78L306.16,357.56Z" fill="#06a0cd"/><path d="M269.02,360.04L275.73,352.57L270.58,349L263.87,356.65Z" fill="#65be86"/><path d="M280.88,358.41L287.59,353.11L282.44,346.93L275.73,352.57Z" fill="#9cbf6f"/><path d="M292.74,361.12L299.45,358.27L294.3,350.08L287.59,353.11Z" fill="#65be86"/><path d="M304.6,367.41L311.31,366.48L306.16,357.56L299.45,358.27Z" fill="#06a7c6"/><path d="M262.31,368.42L269.02,360.04L263.87,356.65L257.16,365.25Z" fill="#06a0cd"/><path d="M274.17,365.37L280.88,358.41L275.73,352.57L269.02,360.04Z" fill="#25b5a9"/><path d="M286.03,365.91L292.74,361.12L287.59,353.11L280.88,358.41Z" fill="#25b5a9"/><path d="M297.89,370.04L304.6,367.41L299.45,358.27L292.74,361.12Z" fill="#06a0cd"/><path d="M267.46,373.16L274.17,365.37L269.02,360.04L262.31,368.42Z" fill="#1485d4"/><path d="M279.32,372.12L286.03,365.91L280.88,358.41L274.17,365.37Z" fill="#0998d1"/><path d="M291.18,374.24L297.89,370.04L292.74,361.12L286.03,365.91Z" fill="#1485d4"/><path d="M272.61,379.04L279.32,372.12L274.17,365.37L267.46,373.16Z" fill="#0268e1"/><path d="M284.47,379.58L291.18,374.24L286.03,365.91L279.32,372.12Z" fill="#0268e1"/><path d="M277.75,385.5L284.47,379.58L279.32,372.12L272.61,379.04Z" fill="#352a87"/></g>
<g fill="#262626" text-rendering="geometricPrecision"><text transform="translate(283.3 308.5) scale(1 1.0)" text-anchor="middle" font-size="17.1" fill="#000">4</text><text transform="translate(216.8 385.74) scale(1 1.08)" text-anchor="end" font-size="14.8">0</text><text transform="translate(216.8 360.4) scale(1 1.08)" text-anchor="end" font-size="14.8">0.01</text><text transform="translate(216.8 335.06) scale(1 1.08)" text-anchor="end" font-size="14.8">0.02</text><text transform="translate(283.09 425.3) scale(1 1.08)" text-anchor="start" font-size="14.8">0</text><text transform="translate(267.69 423.9) scale(1 1.08)" text-anchor="end" font-size="14.8">0</text><text transform="translate(316.65 416.39) scale(1 1.08)" text-anchor="start" font-size="14.8">5</text><text transform="translate(241.95 412.29) scale(1 1.08)" text-anchor="end" font-size="14.8">5</text><text transform="translate(350.2 407.49) scale(1 1.08)" text-anchor="start" font-size="14.8">10</text><text transform="translate(216.2 400.69) scale(1 1.08)" text-anchor="end" font-size="14.8">10</text></g>
<g fill="none" shape-rendering="auto"><line x1="455.09" y1="406.5" x2="403.6" y2="383.29" stroke="#dfdfdf" stroke-width="1"/><line x1="455.09" y1="406.5" x2="522.2" y2="388.69" stroke="#dfdfdf" stroke-width="1"/><line x1="403.6" y1="383.29" x2="403.6" y2="332.61" stroke="#dfdfdf" stroke-width="1"/><line x1="522.2" y1="388.69" x2="522.2" y2="338.01" stroke="#dfdfdf" stroke-width="1"/><line x1="488.65" y1="397.59" x2="437.15" y2="374.38" stroke="#dfdfdf" stroke-width="1"/><line x1="429.35" y1="394.89" x2="496.45" y2="377.08" stroke="#dfdfdf" stroke-width="1"/><line x1="437.15" y1="374.38" x2="437.15" y2="323.71" stroke="#dfdfdf" stroke-width="1"/><line x1="496.45" y1="377.08" x2="496.45" y2="326.41" stroke="#dfdfdf" stroke-width="1"/><line x1="522.2" y1="388.69" x2="470.71" y2="365.48" stroke="#dfdfdf" stroke-width="1"/><line x1="403.6" y1="383.29" x2="470.71" y2="365.48" stroke="#dfdfdf" stroke-width="1"/><line x1="470.71" y1="365.48" x2="470.71" y2="314.8" stroke="#dfdfdf" stroke-width="1"/><line x1="470.71" y1="365.48" x2="470.71" y2="314.8" stroke="#dfdfdf" stroke-width="1"/><line x1="403.6" y1="383.29" x2="470.71" y2="365.48" stroke="#dfdfdf" stroke-width="1"/><line x1="470.71" y1="365.48" x2="522.2" y2="388.69" stroke="#dfdfdf" stroke-width="1"/><line x1="403.6" y1="357.95" x2="470.71" y2="340.14" stroke="#dfdfdf" stroke-width="1"/><line x1="470.71" y1="340.14" x2="522.2" y2="363.35" stroke="#dfdfdf" stroke-width="1"/><line x1="403.6" y1="332.61" x2="470.71" y2="314.8" stroke="#dfdfdf" stroke-width="1"/><line x1="470.71" y1="314.8" x2="522.2" y2="338.01" stroke="#dfdfdf" stroke-width="1"/><line x1="403.6" y1="383.29" x2="403.6" y2="332.61" stroke="#262626" stroke-width="0.8"/><line x1="455.09" y1="406.5" x2="522.2" y2="388.69" stroke="#262626" stroke-width="0.8"/><line x1="455.09" y1="406.5" x2="403.6" y2="383.29" stroke="#262626" stroke-width="0.8"/><line x1="403.6" y1="383.29" x2="401.78" y2="382.47" stroke="#262626" stroke-width="0.8"/><line x1="403.6" y1="357.95" x2="401.78" y2="357.13" stroke="#262626" stroke-width="0.8"/><line x1="403.6" y1="332.61" x2="401.78" y2="331.79" stroke="#262626" stroke-width="0.8"/><line x1="455.09" y1="406.5" x2="456.92" y2="407.32" stroke="#262626" stroke-width="0.8"/><line x1="455.09" y1="406.5" x2="453.16" y2="407.01" stroke="#262626" stroke-width="0.8"/><line x1="488.65" y1="397.59" x2="490.47" y2="398.42" stroke="#262626" stroke-width="0.8"/><line x1="429.35" y1="394.89" x2="427.41" y2="395.41" stroke="#262626" stroke-width="0.8"/><line x1="522.2" y1="388.69" x2="524.02" y2="389.51" stroke="#262626" stroke-width="0.8"/><line x1="403.6" y1="383.29" x2="401.67" y2="383.8" stroke="#262626" stroke-width="0.8"/></g>
<g stroke="#000" stroke-width="0.7" stroke-linejoin="round" stroke-linecap="round"><path d="M467.58,346.36L474.29,348.92L469.15,350.25L462.43,348.38Z" fill="#079ccf"/><path d="M460.87,344.56L467.58,346.36L462.43,348.38L455.72,347.14Z" fill="#2eb7a4"/><path d="M472.73,345.1L479.44,348.22L474.29,348.92L467.58,346.36Z" fill="#2eb7a4"/><path d="M454.16,343.96L460.87,344.56L455.72,347.14L449.01,346.92Z" fill="#7cbf7b"/><path d="M466.02,342.82L472.73,345.1L467.58,346.36L460.87,344.56Z" fill="#a5be6b"/><path d="M477.88,345.04L484.59,348.54L479.44,348.22L472.73,345.1Z" fill="#7cbf7b"/><path d="M447.45,344.91L454.16,343.96L449.01,346.92L442.3,348Z" fill="#92bf73"/><path d="M459.31,341.91L466.02,342.82L460.87,344.56L454.16,343.96Z" fill="#e9b94e"/><path d="M471.17,342.45L477.88,345.04L472.73,345.1L466.02,342.82Z" fill="#e9b94e"/><path d="M483.03,346.53L489.74,350.16L484.59,348.54L477.88,345.04Z" fill="#92bf73"/><path d="M440.74,347.52L447.45,344.91L442.3,348L435.59,350.48Z" fill="#7cbf7b"/><path d="M452.6,342.75L459.31,341.91L454.16,343.96L447.45,344.91Z" fill="#f8bb44"/><path d="M464.46,341.33L471.17,342.45L466.02,342.82L459.31,341.91Z" fill="#f7d826"/><path d="M476.32,343.83L483.03,346.53L477.88,345.04L471.17,342.45Z" fill="#f8bb44"/><path d="M440.74,347.52L428.88,354.26L435.59,350.48Z" fill="#2eb7a4" stroke="none"/><path d="M440.74,347.52L435.59,350.48L428.88,354.26" fill="none"/><path d="M440.74,347.52L428.88,354.26L434.03,351.68Z" fill="#2eb7a4" stroke="none"/><path d="M440.74,347.52L434.03,351.68L428.88,354.26" fill="none"/><path d="M488.18,349.68L494.89,353.18L489.74,350.16L483.03,346.53Z" fill="#7cbf7b"/><path d="M452.6,342.75L440.74,347.52L447.45,344.91Z" fill="#e9b94e" stroke="none"/><path d="M452.6,342.75L447.45,344.91L440.74,347.52" fill="none"/><path d="M452.6,342.75L440.74,347.52L445.89,345.47Z" fill="#e9b94e" stroke="none"/><path d="M452.6,342.75L445.89,345.47L440.74,347.52" fill="none"/><path d="M464.46,341.33L452.6,342.75L459.31,341.91Z" fill="#f5eb18" stroke="none"/><path d="M464.46,341.33L459.31,341.91L452.6,342.75" fill="none"/><path d="M464.46,341.33L452.6,342.75L457.75,342.1Z" fill="#f5eb18" stroke="none"/><path d="M464.46,341.33L457.75,342.1L452.6,342.75" fill="none"/><path d="M469.61,342.64L476.32,343.83L471.17,342.45L464.46,341.33Z" fill="#f5eb18"/><path d="M427.32,357.05L434.03,351.68L428.88,354.26L422.17,359.07Z" fill="#079ccf"/><path d="M481.47,347.09L488.18,349.68L483.03,346.53L476.32,343.83Z" fill="#e9b94e"/><path d="M439.18,349.94L445.89,345.47L440.74,347.52L434.03,351.68Z" fill="#a5be6b"/><path d="M493.33,354.38L500.04,357.51L494.89,353.18L488.18,349.68Z" fill="#2eb7a4"/><path d="M451.04,344.9L457.75,342.1L452.6,342.75L445.89,345.47Z" fill="#f7d826"/><path d="M462.9,343.38L469.61,342.64L464.46,341.33L457.75,342.1Z" fill="#f9fb0e"/><path d="M420.61,363.17L427.32,357.05L422.17,359.07L415.46,364.49Z" fill="#046de0"/><path d="M474.76,345.98L481.47,347.09L476.32,343.83L469.61,342.64Z" fill="#f7d826"/><path d="M432.47,355.78L439.18,349.94L434.03,351.68L427.32,357.05Z" fill="#2eb7a4"/><path d="M486.62,352.1L493.33,354.38L488.18,349.68L481.47,347.09Z" fill="#a5be6b"/><path d="M444.33,349.57L451.04,344.9L445.89,345.47L439.18,349.94Z" fill="#e9b94e"/><path d="M498.48,360.29L505.19,362.85L500.04,357.51L493.33,354.38Z" fill="#079ccf"/><path d="M456.19,346.2L462.9,343.38L457.75,342.1L451.04,344.9Z" fill="#f5eb18"/><path d="M468.05,346.74L474.76,345.98L469.61,342.64L462.9,343.38Z" fill="#f5eb18"/><path d="M425.76,362.47L432.47,355.78L427.32,357.05L420.61,363.17Z" fill="#108ed2"/><path d="M479.91,351.19L486.62,352.1L481.47,347.09L474.76,345.98Z" fill="#e9b94e"/><path d="M437.62,355.73L444.33,349.57L439.18,349.94L432.47,355.78Z" fill="#7cbf7b"/><path d="M491.77,358.48L498.48,360.29L493.33,354.38L486.62,352.1Z" fill="#2eb7a4"/><path d="M449.48,350.95L456.19,346.2L451.04,344.9L444.33,349.57Z" fill="#f8bb44"/><path d="M503.63,366.95L510.34,368.82L505.19,362.85L498.48,360.29Z" fill="#046de0"/><path d="M461.34,349.54L468.05,346.74L462.9,343.38L456.19,346.2Z" fill="#f7d826"/><path d="M473.2,352.03L479.91,351.19L474.76,345.98L468.05,346.74Z" fill="#f8bb44"/><path d="M430.91,362.79L437.62,355.73L432.47,355.78L425.76,362.47Z" fill="#06a4ca"/><path d="M485.06,357.89L491.77,358.48L486.62,352.1L479.91,351.19Z" fill="#7cbf7b"/><path d="M442.77,357.22L449.48,350.95L444.33,349.57L437.62,355.73Z" fill="#92bf73"/><path d="M496.92,365.71L503.63,366.95L498.48,360.29L491.77,358.48Z" fill="#108ed2"/><path d="M454.63,354.22L461.34,349.54L456.19,346.2L449.48,350.95Z" fill="#e9b94e"/><path d="M466.49,354.76L473.2,352.03L468.05,346.74L461.34,349.54Z" fill="#e9b94e"/><path d="M478.35,358.84L485.06,357.89L479.91,351.19L473.2,352.03Z" fill="#92bf73"/><path d="M436.06,364.41L442.77,357.22L437.62,355.73L430.91,362.79Z" fill="#07a9c2"/><path d="M490.21,365.49L496.92,365.71L491.77,358.48L485.06,357.89Z" fill="#06a4ca"/><path d="M447.92,360.37L454.63,354.22L449.48,350.95L442.77,357.22Z" fill="#7cbf7b"/><path d="M459.78,359.23L466.49,354.76L461.34,349.54L454.63,354.22Z" fill="#a5be6b"/><path d="M471.64,361.45L478.35,358.84L473.2,352.03L466.49,354.76Z" fill="#7cbf7b"/><path d="M483.5,366.57L490.21,365.49L485.06,357.89L478.35,358.84Z" fill="#07a9c2"/><path d="M441.21,367.43L447.92,360.37L442.77,357.22L436.06,364.41Z" fill="#06a4ca"/><path d="M453.07,365.07L459.78,359.23L454.63,354.22L447.92,360.37Z" fill="#2eb7a4"/><path d="M464.93,365.61L471.64,361.45L466.49,354.76L459.78,359.23Z" fill="#2eb7a4"/><path d="M476.79,369.05L483.5,366.57L478.35,358.84L471.64,361.45Z" fill="#06a4ca"/><path d="M446.36,371.75L453.07,365.07L447.92,360.37L441.21,367.43Z" fill="#108ed2"/><path d="M458.22,370.98L464.93,365.61L459.78,359.23L453.07,365.07Z" fill="#079ccf"/><path d="M470.08,372.83L476.79,369.05L471.64,361.45L464.93,365.61Z" fill="#108ed2"/><path d="M451.51,377.1L458.22,370.98L453.07,365.07L446.36,371.75Z" fill="#046de0"/><path d="M463.37,377.64L470.08,372.83L464.93,365.61L458.22,370.98Z" fill="#046de0"/><path d="M456.65,383.06L463.37,377.64L458.22,370.98L451.51,377.1Z" fill="#352a87"/></g>
<g fill="#262626" text-rendering="geometricPrecision"><text transform="translate(462.2 308.5) scale(1 1.0)" text-anchor="middle" font-size="17.1" fill="#000">4.5</text><text transform="translate(395.7 385.74) scale(1 1.08)" text-anchor="end" font-size="14.8">0</text><text transform="translate(395.7 360.4) scale(1 1.08)" text-anchor="end" font-size="14.8">0.01</text><text transform="translate(395.7 335.06) scale(1 1.08)" text-anchor="end" font-size="14.8">0.02</text><text transform="translate(461.99 425.3) scale(1 1.08)" text-anchor="start" font-size="14.8">0</text><text transform="translate(446.59 423.9) scale(1 1.08)" text-anchor="end" font-size="14.8">0</text><text transform="translate(495.55 416.39) scale(1 1.08)" text-anchor="start" font-size="14.8">5</text><text transform="translate(420.85 412.29) scale(1 1.08)" text-anchor="end" font-size="14.8">5</text><text transform="translate(529.1 407.49) scale(1 1.08)" text-anchor="start" font-size="14.8">10</text><text transform="translate(395.1 400.69) scale(1 1.08)" text-anchor="end" font-size="14.8">10</text></g>
</svg>
</body></html>
